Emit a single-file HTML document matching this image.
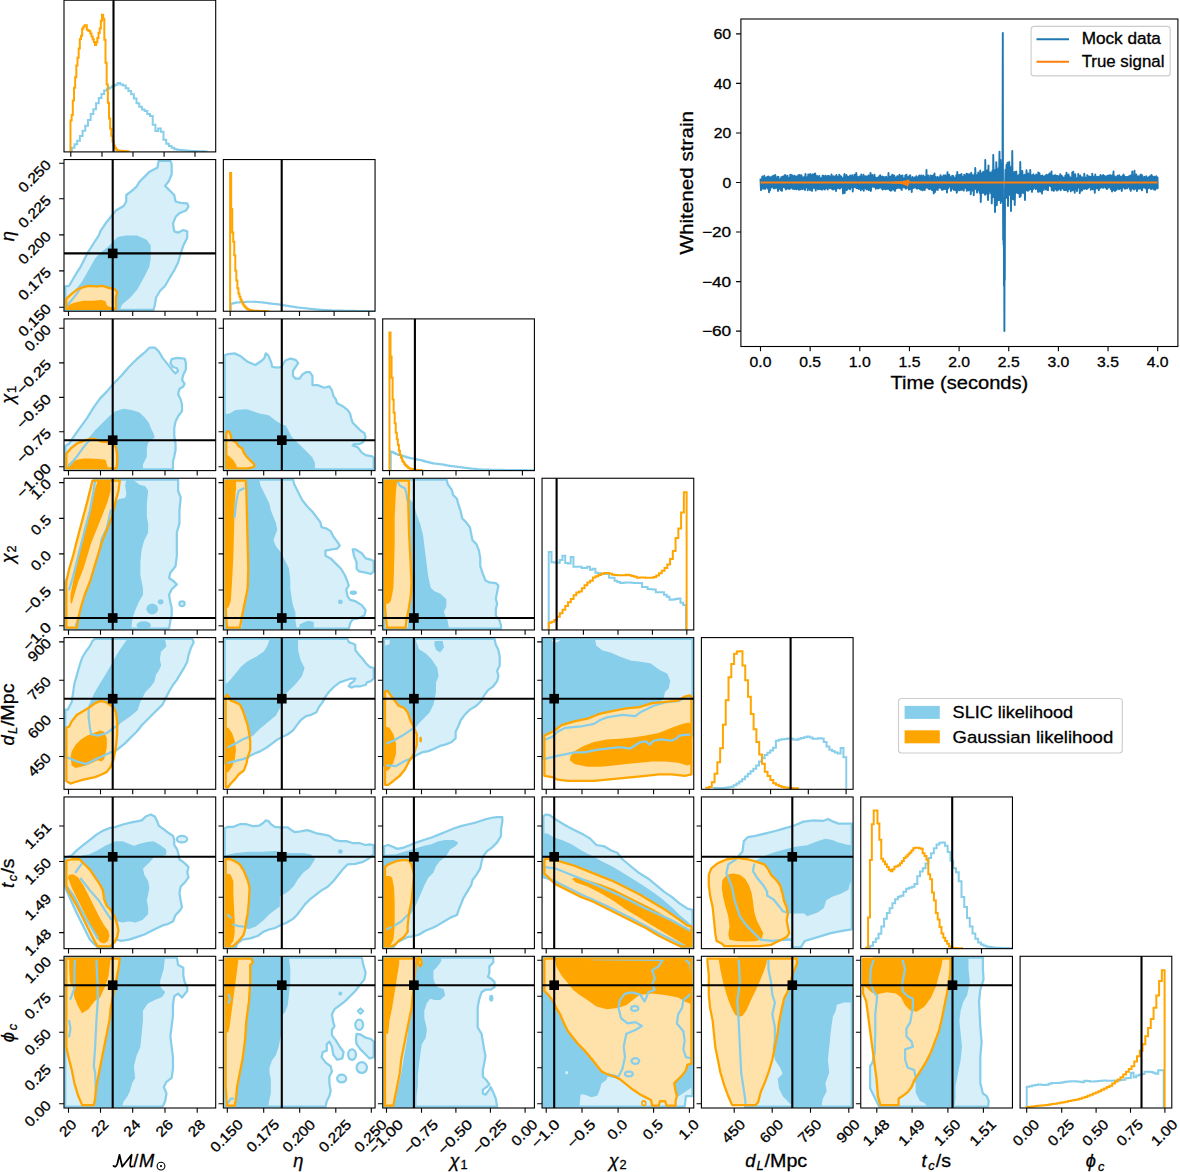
<!DOCTYPE html>
<html><head><meta charset="utf-8"><title>Corner plot</title>
<style>
html,body{margin:0;padding:0;background:#fff;}
body{width:1180px;height:1172px;overflow:hidden;}
svg{display:block;}
text{font-family:"Liberation Sans",sans-serif;fill:#000;stroke:#000;stroke-width:0.3px;}
</style></head><body>
<svg width="1180" height="1172" viewBox="0 0 1180 1172">
<defs>
<clipPath id="c10"><rect x="64" y="159.55" width="151.7" height="151.7"/></clipPath>
<clipPath id="c20"><rect x="64" y="318.9" width="151.7" height="151.7"/></clipPath>
<clipPath id="c30"><rect x="64" y="478.25" width="151.7" height="151.7"/></clipPath>
<clipPath id="c40"><rect x="64" y="637.6" width="151.7" height="151.7"/></clipPath>
<clipPath id="c50"><rect x="64" y="796.95" width="151.7" height="151.7"/></clipPath>
<clipPath id="c60"><rect x="64" y="956.3" width="151.7" height="151.7"/></clipPath>
<clipPath id="c21"><rect x="223.35" y="318.9" width="151.7" height="151.7"/></clipPath>
<clipPath id="c31"><rect x="223.35" y="478.25" width="151.7" height="151.7"/></clipPath>
<clipPath id="c41"><rect x="223.35" y="637.6" width="151.7" height="151.7"/></clipPath>
<clipPath id="c51"><rect x="223.35" y="796.95" width="151.7" height="151.7"/></clipPath>
<clipPath id="c61"><rect x="223.35" y="956.3" width="151.7" height="151.7"/></clipPath>
<clipPath id="c32"><rect x="382.7" y="478.25" width="151.7" height="151.7"/></clipPath>
<clipPath id="c42"><rect x="382.7" y="637.6" width="151.7" height="151.7"/></clipPath>
<clipPath id="c52"><rect x="382.7" y="796.95" width="151.7" height="151.7"/></clipPath>
<clipPath id="c62"><rect x="382.7" y="956.3" width="151.7" height="151.7"/></clipPath>
<clipPath id="c43"><rect x="542.05" y="637.6" width="151.7" height="151.7"/></clipPath>
<clipPath id="c53"><rect x="542.05" y="796.95" width="151.7" height="151.7"/></clipPath>
<clipPath id="c63"><rect x="542.05" y="956.3" width="151.7" height="151.7"/></clipPath>
<clipPath id="c54"><rect x="701.4" y="796.95" width="151.7" height="151.7"/></clipPath>
<clipPath id="c64"><rect x="701.4" y="956.3" width="151.7" height="151.7"/></clipPath>
<clipPath id="c65"><rect x="860.75" y="956.3" width="151.7" height="151.7"/></clipPath>
<clipPath id="h0"><rect x="64" y="0.2" width="151.7" height="151.7"/></clipPath>
<clipPath id="h1"><rect x="223.35" y="159.55" width="151.7" height="151.7"/></clipPath>
<clipPath id="h2"><rect x="382.7" y="318.9" width="151.7" height="151.7"/></clipPath>
<clipPath id="h3"><rect x="542.05" y="478.25" width="151.7" height="151.7"/></clipPath>
<clipPath id="h4"><rect x="701.4" y="637.6" width="151.7" height="151.7"/></clipPath>
<clipPath id="h5"><rect x="860.75" y="796.95" width="151.7" height="151.7"/></clipPath>
<clipPath id="h6"><rect x="1020.1" y="956.3" width="151.7" height="151.7"/></clipPath>
</defs>
<rect width="1180" height="1172" fill="#fff"/>
<g clip-path="url(#c10)">
<path d="M65.3 309.95 L65.3 286.45 L69.19 285.8 L74.38 276.72 L80.86 266.35 L87.34 253.38 L93.83 243 L99.02 235.22 L100.31 231.33 L105.5 223.55 L110.69 217.06 L115.88 210.58 L123.66 206.04 L126.25 201.5 L126.25 195.02 L131.44 191.13 L136.63 186.59 L139.22 182.05 L144.41 176.86 L149.6 171.67 L154.78 169.08 L157.38 167.78 L158.68 160.85 L162.57 160.85 L170.35 160.85 L171.65 163.89 L171.65 174.27 L169.05 180.75 L165.16 185.94 L169.05 189.83 L174.24 195.02 L175.54 201.5 L180.72 202.8 L187.21 203.45 L188.51 206.69 L185.91 210.58 L179.43 213.17 L175.54 217.06 L172.94 223.55 L174.24 231.33 L178.13 232.63 L183.32 230.03 L187.21 231.33 L187.21 237.82 L183.32 245.6 L180.72 253.38 L178.13 262.46 L174.24 270.24 L170.35 276.72 L165.16 285.8 L159.97 290.99 L156.08 297.47 L154.78 305.26 L153.49 309.95Z" fill="#d7eff8" stroke="#87ceeb" stroke-width="2.25" stroke-linejoin="round"/>
<path d="M118.47 309.95 L121.06 303.96 L128.85 297.47 L136.63 288.4 L143.11 276.72 L148.3 266.35 L149.6 258.57 L149.6 245.6 L145.71 240.41 L136.63 236.52 L126.25 236.52 L118.47 237.82 L113.28 243 L108.1 248.19 L101.61 253.38 L96.42 258.57 L91.24 267.65 L86.05 276.72 L82.16 283.21 L76.97 289.69 L71.78 297.47 L67.89 302.66 L65.3 309.95Z" fill="#87ceeb" stroke="#87ceeb" stroke-width="2.25" stroke-linejoin="round"/>
<path d="M66.3 308.95 L66.3 298.77 L70.48 294.88 L76.97 289.69 L83.45 287.1 L88.64 285.8 L96.42 286.45 L102.91 285.8 L108.1 287.75 L114.58 289.04 L117.17 292.29 L115.88 297.47 L115.88 302.66 L115.88 308.95Z" fill="#ffe1aa"/>
<path d="M67.89 308.95 L67.89 305.26 L74.38 302.66 L83.45 300.72 L92.53 300.72 L101.61 300.07 L105.5 301.37 L106.8 305.26 L110.69 307.2 L113.28 307.85 L114.58 308.95Z" fill="#ffa500"/>
<path d="M66.59 306.55 L71.78 300.07 L76.97 293.58 L80.86 287.1" fill="none" stroke="#87ceeb" stroke-width="2.25" stroke-linejoin="round" stroke-linecap="round"/>
<path d="M66.3 308.95 L66.3 298.77 L70.48 294.88 L76.97 289.69 L83.45 287.1 L88.64 285.8 L96.42 286.45 L102.91 285.8 L108.1 287.75 L114.58 289.04 L117.17 292.29 L115.88 297.47 L115.88 302.66 L115.88 308.95Z" fill="none" stroke="#ffa500" stroke-width="2.3" stroke-linejoin="round"/>
</g>
<g clip-path="url(#c20)">
<path d="M65.3 469.3 L65.3 446.1 L69.19 443.51 L74.38 435.72 L80.86 426.65 L87.34 417.57 L93.83 407.19 L100.31 398.11 L106.8 391.63 L113.28 383.85 L121.06 376.06 L128.85 366.99 L136.63 359.2 L144.41 352.72 L149.6 347.53 L154.78 347.53 L158.68 351.42 L162.57 357.91 L167.75 364.39 L172.94 370.88 L175.54 373.47 L178.13 370.88 L176.83 368.28 L172.94 366.99 L170.35 363.1 L171.65 359.2 L176.83 357.91 L184.61 358.56 L185.91 363.1 L185.91 369.58 L183.32 374.77 L182.02 379.96 L184.61 383.85 L183.32 386.44 L179.43 389.03 L178.13 394.22 L180.72 399.41 L182.02 404.6 L182.02 411.08 L178.13 416.27 L175.54 421.46 L174.24 427.94 L174.24 435.72 L175.54 443.51 L175.54 449.99 L174.24 456.47 L172.94 461.66 L172.94 469.3Z" fill="#d7eff8" stroke="#87ceeb" stroke-width="2.25" stroke-linejoin="round"/>
<path d="M141.82 469.3 L141.82 464.26 L145.71 456.47 L145.71 448.69 L147 442.21 L153.49 437.02 L152.19 433.13 L149.6 427.94 L148.3 424.05 L144.41 418.86 L139.22 413.68 L131.44 411.08 L123.66 409.78 L115.88 412.38 L109.39 417.57 L102.91 424.05 L96.42 430.54 L89.94 438.32 L83.45 446.1 L76.97 455.18 L70.48 464.26 L67.89 469.3Z" fill="#87ceeb" stroke="#87ceeb" stroke-width="2.25" stroke-linejoin="round"/>
<path d="M66.3 468.3 L66.3 453.88 L70.48 448.69 L76.97 443.51 L83.45 440.91 L89.94 438.97 L95.13 438.97 L101.61 441.56 L108.1 442.21 L113.28 443.51 L115.88 447.4 L117.17 453.88 L117.17 461.66 L116.53 468.3Z" fill="#ffe1aa"/>
<path d="M67.89 468.3 L67.89 464.26 L71.78 461.66 L76.97 459.72 L83.45 458.42 L89.94 458.42 L99.02 459.07 L105.5 459.72 L106.8 464.26 L108.1 468.3Z" fill="#ffa500"/>
<path d="M69.19 465.55 L76.97 456.47 L83.45 447.4 L89.94 439.61" fill="none" stroke="#87ceeb" stroke-width="2.25" stroke-linejoin="round" stroke-linecap="round"/>
<path d="M66.3 468.3 L66.3 453.88 L70.48 448.69 L76.97 443.51 L83.45 440.91 L89.94 438.97 L95.13 438.97 L101.61 441.56 L108.1 442.21 L113.28 443.51 L115.88 447.4 L117.17 453.88 L117.17 461.66 L116.53 468.3Z" fill="none" stroke="#ffa500" stroke-width="2.3" stroke-linejoin="round"/>
</g>
<g clip-path="url(#c30)">
<path d="M93.83 479.55 L178.13 479.55 L178.13 490.97 L180.72 497.45 L179.43 510.42 L179.43 523.39 L176.83 532.47 L176.83 542.85 L176.83 555.82 L175.54 566.19 L170.35 572.68 L169.05 577.86 L174.24 581.75 L176.83 584.35 L171.65 589.54 L169.05 594.72 L170.35 602.51 L171.65 607.69 L171.65 615.47 L170.35 620.66 L169.05 628.65 L65.3 628.65 L65.3 581.75 L71.78 568.78 L76.97 549.33 L83.45 523.39 L88.64 497.45 L92.53 481.89Z" fill="#d7eff8" stroke="#87ceeb" stroke-width="2.25" stroke-linejoin="round"/>
<ellipse cx="182.02" cy="603.8" rx="2.59" ry="2.33" fill="#d7eff8" stroke="#87ceeb" stroke-width="2.25"/>
<path d="M127.55 479.55 L134.03 481.89 L139.22 485.78 L144.41 487.08 L147 490.97 L145.71 503.94 L145.71 516.91 L147 523.39 L147 532.47 L143.11 540.25 L140.52 549.33 L139.22 562.3 L139.22 575.27 L141.82 588.24 L141.82 594.72 L137.92 601.21 L134.03 610.29 L131.44 618.07 L130.14 628.65 L75.02 628.65 L78.91 614.18 L84.75 594.72 L90.59 575.27 L95.77 555.82 L100.31 540.25 L106.8 525.99 L111.34 510.42 L114.58 502.64 L119.77 500.05 L126.25 498.75 L127.55 493.56 L126.25 485.78Z" fill="#87ceeb" stroke="#87ceeb" stroke-width="2.25" stroke-linejoin="round"/>
<ellipse cx="152.19" cy="608.99" rx="5.84" ry="5.45" fill="#87ceeb"/>
<ellipse cx="160.62" cy="601.86" rx="2.85" ry="2.59" fill="#87ceeb"/>
<ellipse cx="143.76" cy="625.2" rx="7.13" ry="3.89" fill="#87ceeb"/>
<path d="M92.53 480.55 L119.77 480.55 L118.47 490.97 L115.88 500.05 L111.99 516.91 L106.8 529.88 L101.61 542.85 L97.72 555.82 L93.83 568.78 L89.94 581.75 L84.75 594.72 L80.86 607.69 L78.27 618.07 L76.97 627.65 L66.3 627.65 L66.3 581.75 L69.19 568.78 L73.08 555.82 L76.97 540.25 L82.16 520.8 L87.34 501.34 L91.24 485.78Z" fill="#ffe1aa"/>
<path d="M97.72 480.55 L110.69 480.55 L110.69 490.97 L106.8 503.94 L101.61 516.91 L96.42 529.88 L91.24 542.85 L87.34 555.82 L83.45 568.78 L78.27 581.75 L74.38 594.72 L71.78 603.8 L70.48 602.51 L70.48 594.72 L73.08 581.75 L76.97 562.3 L80.86 542.85 L86.05 523.39 L91.24 503.94 L95.13 488.38Z" fill="#ffa500"/>
<path d="M95.13 480.59 L93.18 493.56 L89.94 510.42 L84.75 529.88 L80.86 545.44 L76.97 561 L73.08 576.57 L69.19 589.54" fill="none" stroke="#87ceeb" stroke-width="2.25" stroke-linejoin="round" stroke-linecap="round"/>
<path d="M110.69 510.42 L106.8 528.58 L101.61 538.96 L99.02 555.82 L92.53 575.27 L86.05 594.72 L80.86 611.58 L75.67 625.85" fill="none" stroke="#87ceeb" stroke-width="2.25" stroke-linejoin="round" stroke-linecap="round"/>
<path d="M92.53 480.55 L119.77 480.55 L118.47 490.97 L115.88 500.05 L111.99 516.91 L106.8 529.88 L101.61 542.85 L97.72 555.82 L93.83 568.78 L89.94 581.75 L84.75 594.72 L80.86 607.69 L78.27 618.07 L76.97 627.65 L66.3 627.65 L66.3 581.75 L69.19 568.78 L73.08 555.82 L76.97 540.25 L82.16 520.8 L87.34 501.34 L91.24 485.78Z" fill="none" stroke="#ffa500" stroke-width="2.3" stroke-linejoin="round"/>
</g>
<g clip-path="url(#c40)">
<path d="M92.53 640.89 L95.13 638.9 L192.4 638.9 L193.69 642.19 L191.1 647.38 L188.51 655.16 L187.21 661.64 L184.61 666.83 L180.72 673.31 L176.83 679.8 L172.94 684.99 L169.05 691.47 L166.46 696.66 L162.57 704.44 L157.38 709.63 L152.19 714.82 L147 720 L141.82 725.19 L136.63 731.68 L130.14 738.16 L124.96 743.35 L118.47 748.54 L113.28 752.43 L106.8 755.02 L96.42 758.91 L86.05 764.1 L76.97 761.51 L67.89 757.61 L65.3 757.61 L65.3 709.63 L67.89 709.63 L69.19 707.03 L71.78 701.85 L73.08 692.77 L74.38 683.69 L76.97 674.61 L79.56 665.53 L82.16 657.75 L86.05 651.27 L89.94 646.08Z" fill="#d7eff8" stroke="#87ceeb" stroke-width="2.25" stroke-linejoin="round"/>
<path d="M128.85 638.9 L163.86 638.9 L165.16 646.08 L159.97 651.27 L158.68 659.05 L159.97 665.53 L157.38 670.72 L154.78 674.61 L153.49 681.1 L149.6 686.28 L144.41 691.47 L141.82 696.66 L139.22 701.85 L136.63 709.63 L128.85 716.11 L121.06 721.3 L115.88 726.49 L106.8 732.97 L99.02 734.27 L92.53 735.57 L89.94 732.97 L89.29 721.3 L88.64 708.33 L95.13 694.06 L100.31 684.99 L106.8 674.61 L111.99 665.53 L118.47 653.86 L123.66 646.08Z" fill="#87ceeb" stroke="#87ceeb" stroke-width="2.25" stroke-linejoin="round"/>
<path d="M66.3 780.96 L66.3 727.78 L69.19 726.49 L71.78 721.3 L76.97 714.82 L83.45 710.92 L89.94 707.03 L95.13 703.14 L100.31 701.2 L105.5 701.85 L109.39 704.44 L113.28 707.03 L115.88 712.22 L117.17 721.3 L117.17 734.27 L115.88 747.24 L113.28 760.21 L110.69 766.69 L106.8 771.88 L101.61 774.47 L95.13 777.07 L83.45 779.66 L74.38 782.26 L70.48 783.55Z" fill="#ffe1aa"/>
<path d="M70.48 757.61 L71.78 751.13 L75.67 744.65 L80.86 739.46 L87.34 735.57 L93.83 732.97 L100.31 730.38 L104.2 731.68 L106.8 738.16 L106.8 747.24 L105.5 753.72 L104.2 758.91 L101.61 761.51 L97.72 760.21 L92.53 762.8 L86.05 765.4 L80.86 766.69 L75.67 767.99 L71.78 765.4Z" fill="#ffa500"/>
<path d="M88.64 708.33 L88.64 717.41 L89.94 727.78 L91.24 734.27 L97.72 735.57 L106.8 732.97 L115.88 726.49" fill="none" stroke="#87ceeb" stroke-width="2.25" stroke-linejoin="round" stroke-linecap="round"/>
<path d="M67.89 757.61 L76.97 761.51 L86.05 764.1 L96.42 758.91 L111.99 751.78" fill="none" stroke="#87ceeb" stroke-width="2.25" stroke-linejoin="round" stroke-linecap="round"/>
<path d="M66.3 780.96 L66.3 727.78 L69.19 726.49 L71.78 721.3 L76.97 714.82 L83.45 710.92 L89.94 707.03 L95.13 703.14 L100.31 701.2 L105.5 701.85 L109.39 704.44 L113.28 707.03 L115.88 712.22 L117.17 721.3 L117.17 734.27 L115.88 747.24 L113.28 760.21 L110.69 766.69 L106.8 771.88 L101.61 774.47 L95.13 777.07 L83.45 779.66 L74.38 782.26 L70.48 783.55Z" fill="none" stroke="#ffa500" stroke-width="2.3" stroke-linejoin="round"/>
</g>
<g clip-path="url(#c50)">
<path d="M71.78 855.36 L76.97 850.17 L83.45 844.99 L89.94 839.8 L96.42 834.61 L102.91 830.72 L109.39 828.13 L115.88 826.83 L123.66 824.24 L131.44 822.29 L141.82 820.34 L145.71 816.45 L150.89 814.51 L154.78 816.45 L157.38 821.64 L158.68 825.53 L163.86 829.42 L169.05 833.31 L172.94 835.91 L174.24 839.8 L174.24 844.99 L176.83 848.88 L178.13 852.77 L179.43 859.25 L184.61 863.14 L188.51 867.03 L187.21 872.22 L188.51 877.41 L184.61 882.6 L180.72 886.49 L179.43 892.97 L180.72 900.75 L182.02 907.24 L179.43 911.13 L175.54 915.02 L172.94 921.51 L167.75 924.1 L162.57 925.4 L157.38 927.99 L152.19 930.58 L144.41 934.47 L136.63 937.07 L128.85 939.66 L121.06 940.96 L117.17 939.66 L113.28 942.26 L110.69 947.35 L97.72 947.35 L89.94 939.66 L76.97 913.72 L65.3 887.78 L65.3 857.96Z" fill="#d7eff8" stroke="#87ceeb" stroke-width="2.25" stroke-linejoin="round"/>
<ellipse cx="182.02" cy="839.15" rx="5.19" ry="3.24" fill="#d7eff8" stroke="#87ceeb" stroke-width="2.25"/>
<path d="M89.94 855.36 L97.72 851.47 L106.8 846.28 L115.88 842.39 L122.36 842.39 L128.85 844.99 L134.03 846.93 L139.22 844.99 L147 843.04 L153.49 842.39 L159.97 846.28 L165.16 850.17 L165.16 854.06 L159.97 855.36 L153.49 855.36 L150.89 859.25 L147 863.14 L141.82 868.33 L143.11 874.82 L147 881.3 L148.3 887.78 L147 894.27 L145.71 900.75 L147 907.24 L147 913.72 L141.82 918.91 L135.33 921.51 L128.85 920.21 L122.36 921.51 L117.17 920.21 L111.99 916.32 L102.91 900.75 L89.94 881.3 L79.56 864.44 L76.97 859.25 L82.16 856.66Z" fill="#87ceeb" stroke="#87ceeb" stroke-width="2.25" stroke-linejoin="round"/>
<path d="M66.3 860.55 L71.78 859.25 L79.56 859.25 L84.75 864.44 L89.94 869.63 L95.13 877.41 L100.31 885.19 L102.91 890.38 L104.2 899.46 L106.8 905.94 L110.69 909.83 L114.58 916.32 L117.17 924.1 L118.47 930.58 L117.17 937.07 L114.58 942.26 L110.69 946.15 L106.8 946.35 L97.72 946.35 L95.13 942.26 L91.24 934.47 L87.34 926.69 L82.16 916.32 L76.97 905.94 L71.78 896.86 L67.89 890.38 L66.3 885.19Z" fill="#ffe1aa"/>
<path d="M67.89 877.41 L69.19 874.82 L73.08 874.17 L78.27 877.41 L83.45 885.19 L88.64 895.57 L93.83 905.94 L99.02 916.32 L104.2 925.4 L108.1 930.58 L109.39 935.77 L108.1 940.96 L104.2 943.55 L100.31 942.26 L96.42 937.07 L92.53 929.29 L87.34 918.91 L82.16 908.54 L76.97 898.16 L71.78 887.78Z" fill="#ffa500"/>
<path d="M75.67 872.22 L82.16 863.14" fill="none" stroke="#87ceeb" stroke-width="2.25" stroke-linejoin="round" stroke-linecap="round"/>
<path d="M67.89 887.78 L74.38 896.86 L79.56 907.24 L86.05 918.91 L92.53 929.29 L97.72 938.37" fill="none" stroke="#87ceeb" stroke-width="2.25" stroke-linejoin="round" stroke-linecap="round"/>
<path d="M80.86 878.71 L89.94 890.38 L99.02 900.75 L105.5 911.13 L110.69 918.91" fill="none" stroke="#87ceeb" stroke-width="2.25" stroke-linejoin="round" stroke-linecap="round"/>
<path d="M66.3 860.55 L71.78 859.25 L79.56 859.25 L84.75 864.44 L89.94 869.63 L95.13 877.41 L100.31 885.19 L102.91 890.38 L104.2 899.46 L106.8 905.94 L110.69 909.83 L114.58 916.32 L117.17 924.1 L118.47 930.58 L117.17 937.07 L114.58 942.26 L110.69 946.15 L106.8 946.35 L97.72 946.35 L95.13 942.26 L91.24 934.47 L87.34 926.69 L82.16 916.32 L76.97 905.94 L71.78 896.86 L67.89 890.38 L66.3 885.19Z" fill="none" stroke="#ffa500" stroke-width="2.3" stroke-linejoin="round"/>
</g>
<g clip-path="url(#c60)">
<path d="M65.3 957.6 L176.83 957.6 L178.13 965.08 L183.32 967.67 L183.32 975.45 L184.61 981.94 L187.21 987.13 L187.21 991.02 L182.02 997.5 L178.13 993.61 L174.24 996.2 L172.94 1005.28 L172.94 1015.66 L171.65 1026.03 L170.35 1036.41 L171.65 1046.78 L172.94 1057.16 L172.94 1068.83 L171.65 1077.91 L166.46 1081.8 L163.86 1086.99 L166.46 1093.47 L165.16 1101.26 L162.57 1106.7 L65.3 1106.7Z" fill="#d7eff8" stroke="#87ceeb" stroke-width="2.25" stroke-linejoin="round"/>
<path d="M96.42 957.6 L163.86 957.6 L162.57 968.97 L158.68 981.94 L159.97 988.42 L163.86 992.31 L161.27 996.2 L154.78 998.8 L147 1002.69 L141.82 1010.47 L141.82 1020.85 L140.52 1033.82 L139.22 1046.78 L135.33 1055.86 L132.74 1066.24 L134.03 1077.91 L131.44 1081.8 L128.85 1090.88 L126.25 1096.07 L122.36 1101.26 L121.06 1106.7 L96.42 1106.7 L96.42 1098.66 L95.13 1072.72 L93.83 1066.24 L95.13 1046.78 L96.42 1020.85 L97.72 1001.39 L97.72 988.42Z" fill="#87ceeb" stroke="#87ceeb" stroke-width="2.25" stroke-linejoin="round"/>
<path d="M66.3 958.6 L119.77 958.6 L118.47 968.97 L115.88 981.94 L113.28 994.91 L110.69 1007.88 L109.39 1020.85 L106.8 1033.82 L104.2 1046.78 L101.61 1059.75 L99.02 1072.72 L96.42 1085.69 L95.13 1098.66 L93.83 1105.15 L82.16 1105.15 L78.27 1096.07 L74.38 1083.1 L71.78 1070.13 L67.89 1054.57 L66.3 1046.78Z" fill="#ffe1aa"/>
<path d="M69.19 958.6 L110.69 958.6 L108.48 976.49 L104.98 986.74 L99.8 998.02 L94.74 1001 L88.51 1009.17 L81.9 1013.32 L77.36 1004.63 L74.25 996.98 L72.69 986.74 L69.84 981.94 L69.19 968.97Z" fill="#ffa500"/>
<path d="M96.42 1103.85 L95.13 1072.72 L93.83 1066.24 L95.13 1046.78 L96.42 1020.85 L97.72 1001.39 L97.72 988.42 L96.42 959.89" fill="none" stroke="#87ceeb" stroke-width="2.25" stroke-linejoin="round" stroke-linecap="round"/>
<path d="M70.48 998.8 L74.38 988.42 L74.38 968.97 L75.02 958.59" fill="none" stroke="#87ceeb" stroke-width="2.25" stroke-linejoin="round" stroke-linecap="round"/>
<path d="M69.19 1020.85 L70.48 1028.63 L69.19 1036.41" fill="none" stroke="#87ceeb" stroke-width="2.25" stroke-linejoin="round" stroke-linecap="round"/>
<path d="M66.3 958.6 L119.77 958.6 L118.47 968.97 L115.88 981.94 L113.28 994.91 L110.69 1007.88 L109.39 1020.85 L106.8 1033.82 L104.2 1046.78 L101.61 1059.75 L99.02 1072.72 L96.42 1085.69 L95.13 1098.66 L93.83 1105.15 L82.16 1105.15 L78.27 1096.07 L74.38 1083.1 L71.78 1070.13 L67.89 1054.57 L66.3 1046.78Z" fill="none" stroke="#ffa500" stroke-width="2.3" stroke-linejoin="round"/>
</g>
<g clip-path="url(#c21)">
<path d="M224.65 469.3 L224.65 355.31 L228.19 354.02 L234.67 353.37 L241.16 356.61 L247.64 361.8 L255.42 365.04 L261.91 360.5 L264.5 357.91 L265.8 353.37 L268.39 355.31 L270.99 361.8 L272.28 366.99 L277.47 367.63 L281.36 366.99 L285.25 360.5 L290.44 358.56 L295.63 359.85 L298.22 363.1 L295.63 366.99 L293.03 370.88 L293.03 376.06 L295.63 378.66 L299.52 378.66 L302.11 374.77 L306 372.17 L309.89 372.17 L312.49 376.06 L312.49 381.25 L312.49 385.14 L317.68 385.14 L324.16 387.74 L329.35 386.44 L331.94 390.33 L333.24 395.52 L335.83 399.41 L337.13 403.3 L342.32 405.89 L347.51 409.78 L350.1 413.68 L351.4 418.86 L352.69 422.75 L356.58 426.65 L360.47 430.54 L364.37 433.13 L365.66 437.02 L363.07 442.21 L359.18 444.15 L353.99 444.15 L352.69 445.45 L357.88 447.4 L361.77 452.58 L365.66 455.18 L372.15 456.47 L373.75 457.77 L373.75 469.3Z" fill="#d7eff8" stroke="#87ceeb" stroke-width="2.25" stroke-linejoin="round"/>
<path d="M224.65 469.3 L224.65 414.97 L229.48 414.97 L235.97 411.08 L246.34 410.43 L252.83 412.38 L260.61 414.97 L268.39 416.27 L274.88 421.46 L281.36 425.35 L285.25 426.65 L287.85 431.83 L290.44 437.02 L295.63 442.21 L300.82 447.4 L306 452.58 L311.19 457.77 L313.78 462.96 L313.78 469.3Z" fill="#87ceeb" stroke="#87ceeb" stroke-width="2.25" stroke-linejoin="round"/>
<path d="M226.24 468.3 L226.24 433.13 L227.54 431.18 L229.48 431.83 L230.78 435.72 L231.43 439.61 L235.97 442.21 L238.56 446.1 L242.45 448.69 L243.75 452.58 L246.34 456.47 L248.94 459.07 L251.53 461.66 L254.13 464.26 L254.13 466.85 L248.94 468.3Z" fill="#ffe1aa"/>
<path d="M226.24 468.3 L226.24 453.88 L229.48 456.47 L233.38 460.37 L235.97 464.26 L237.27 468.3Z" fill="#ffa500"/>
<path d="M226.24 468.3 L226.24 433.13 L227.54 431.18 L229.48 431.83 L230.78 435.72 L231.43 439.61 L235.97 442.21 L238.56 446.1 L242.45 448.69 L243.75 452.58 L246.34 456.47 L248.94 459.07 L251.53 461.66 L254.13 464.26 L254.13 466.85 L248.94 468.3Z" fill="none" stroke="#ffa500" stroke-width="2.3" stroke-linejoin="round"/>
</g>
<g clip-path="url(#c31)">
<path d="M224.65 479.55 L293.03 479.55 L294.33 484.48 L298.22 492.27 L302.11 500.05 L307.3 506.53 L312.49 511.72 L316.38 516.91 L320.27 522.1 L321.57 527.28 L326.75 528.58 L330.65 531.17 L333.24 536.36 L337.13 541.55 L339.72 545.44 L337.13 548.68 L331.94 549.33 L325.46 550.63 L325.46 555.82 L330.65 558.41 L335.83 563.6 L341.02 568.78 L344.91 575.27 L347.51 581.75 L348.8 585.65 L346.21 589.54 L347.51 596.02 L350.1 599.91 L355.29 601.21 L361.77 605.1 L365.66 610.29 L364.37 615.47 L359.18 618.07 L352.69 619.37 L350.1 623.26 L348.8 628.65 L224.65 628.65Z" fill="#d7eff8" stroke="#87ceeb" stroke-width="2.25" stroke-linejoin="round"/>
<path d="M352.69 549.33 L355.29 549.33 L361.77 553.22 L365.66 558.41 L370.85 559.71 L373.75 561 L373.75 571.38 L370.85 573.97 L365.66 572.68 L359.18 571.38 L356.58 568.78 L356.58 562.3 L353.99 555.82Z" fill="#d7eff8" stroke="#87ceeb" stroke-width="2.25" stroke-linejoin="round"/>
<path d="M246.34 479.55 L258.02 479.55 L259.31 485.78 L264.5 496.16 L268.39 503.94 L269.69 510.42 L272.28 516.91 L274.88 523.39 L276.17 529.88 L273.58 536.36 L272.28 540.25 L274.88 546.74 L280.06 553.22 L283.96 561 L287.85 568.78 L289.14 579.16 L289.14 588.24 L290.44 597.32 L291.74 605.1 L294.33 612.88 L294.33 620.66 L295.63 628.65 L242.45 628.65 L245.05 607.69 L246.34 581.75 L246.99 555.82 L246.99 529.88 L246.34 503.94Z" fill="#87ceeb" stroke="#87ceeb" stroke-width="2.25" stroke-linejoin="round"/>
<path d="M299.52 624.55 L304.71 621.96 L308.6 620.66 L313.78 621.96 L313.78 628.65 L299.52 628.65Z" fill="#87ceeb"/>
<ellipse cx="353.34" cy="592.78" rx="2.59" ry="1.04" fill="#d7eff8" stroke="#87ceeb" stroke-width="2.25"/>
<ellipse cx="340.37" cy="601.86" rx="1.3" ry="1.3" fill="#d7eff8" stroke="#87ceeb" stroke-width="2.25"/>
<path d="M225.65 480.55 L245.7 480.55 L246.34 490.97 L246.99 516.91 L247.64 542.85 L248.29 568.78 L247.64 588.24 L245.05 601.21 L242.45 614.18 L241.16 620.66 L239.86 627.65 L226.89 627.65 L225.65 607.69Z" fill="#ffe1aa"/>
<path d="M225.65 480.55 L235.97 480.55 L235.97 488.38 L234.67 503.94 L234.02 529.88 L233.38 555.82 L232.08 581.75 L230.78 601.21 L228.19 607.69 L225.65 607.69Z" fill="#ffa500"/>
<path d="M243.75 488.38 L238.56 490.97 L237.27 496.16 L235.97 503.94 L234.67 516.91" fill="none" stroke="#87ceeb" stroke-width="2.25" stroke-linejoin="round" stroke-linecap="round"/>
<path d="M225.65 480.55 L245.7 480.55 L246.34 490.97 L246.99 516.91 L247.64 542.85 L248.29 568.78 L247.64 588.24 L245.05 601.21 L242.45 614.18 L241.16 620.66 L239.86 627.65 L226.89 627.65 L225.65 607.69Z" fill="none" stroke="#ffa500" stroke-width="2.3" stroke-linejoin="round"/>
</g>
<g clip-path="url(#c41)">
<path d="M224.65 638.9 L347.51 638.9 L348.8 642.19 L352.69 643.48 L355.29 644.78 L355.29 649.97 L359.18 655.16 L361.77 657.75 L365.66 662.94 L369.55 666.83 L373.75 668.13 L373.75 678.5 L370.85 681.1 L366.96 682.39 L365.66 684.99 L360.47 686.28 L355.29 686.28 L351.4 687.58 L348.8 686.28 L350.1 683.69 L353.99 681.1 L355.29 678.5 L351.4 678.5 L347.51 679.8 L339.72 682.39 L334.54 686.28 L329.35 691.47 L325.46 696.66 L322.86 701.85 L318.97 707.03 L316.38 712.22 L311.19 714.82 L306 716.11 L300.82 720 L296.92 725.19 L293.03 730.38 L287.85 734.27 L282.66 736.86 L277.47 739.46 L272.28 743.35 L267.1 747.24 L260.61 751.13 L254.13 753.72 L248.94 756.32 L243.75 758.91 L235.97 760.86 L228.19 762.8 L224.65 763.45Z" fill="#d7eff8" stroke="#87ceeb" stroke-width="2.25" stroke-linejoin="round"/>
<path d="M224.65 686.28 L229.48 682.39 L235.97 674.61 L242.45 666.83 L248.94 661.64 L256.72 657.75 L264.5 652.56 L268.39 646.08 L270.99 638.9 L296.92 638.9 L296.92 649.97 L299.52 660.34 L303.41 668.13 L300.82 675.91 L295.63 682.39 L289.14 688.88 L282.66 695.36 L280.06 705.74 L274.88 714.82 L267.1 721.3 L259.31 727.78 L252.83 734.27 L248.94 736.86 L242.45 739.46 L235.97 743.35 L228.19 747.24 L224.65 748.54Z" fill="#87ceeb" stroke="#87ceeb" stroke-width="2.25" stroke-linejoin="round"/>
<path d="M225.65 787 L225.65 696.66 L226.89 694.71 L228.84 696.66 L230.78 700.55 L234.67 701.85 L239.86 704.44 L242.45 709.63 L245.05 717.41 L247.64 725.19 L248.94 731.68 L250.24 740.75 L250.24 749.83 L247.64 757.61 L246.34 764.1 L243.75 770.58 L238.56 774.47 L234.67 779.66 L230.78 783.55 L228.19 787Z" fill="#ffe1aa"/>
<path d="M225.65 727.78 L228.19 727.78 L232.08 732.97 L234.67 740.75 L235.97 749.83 L234.67 760.21 L232.08 766.69 L228.19 771.88 L225.65 773.18Z" fill="#ffa500"/>
<path d="M228.19 747.24 L235.97 743.35 L242.45 739.46 L248.94 736.86" fill="none" stroke="#87ceeb" stroke-width="2.25" stroke-linejoin="round" stroke-linecap="round"/>
<path d="M228.19 762.8 L235.97 760.86 L243.75 758.91 L248.94 756.97" fill="none" stroke="#87ceeb" stroke-width="2.25" stroke-linejoin="round" stroke-linecap="round"/>
<path d="M225.65 787 L225.65 696.66 L226.89 694.71 L228.84 696.66 L230.78 700.55 L234.67 701.85 L239.86 704.44 L242.45 709.63 L245.05 717.41 L247.64 725.19 L248.94 731.68 L250.24 740.75 L250.24 749.83 L247.64 757.61 L246.34 764.1 L243.75 770.58 L238.56 774.47 L234.67 779.66 L230.78 783.55 L228.19 787Z" fill="none" stroke="#ffa500" stroke-width="2.3" stroke-linejoin="round"/>
</g>
<g clip-path="url(#c51)">
<path d="M224.65 947.35 L224.65 828.13 L228.19 826.83 L233.38 826.83 L239.86 824.24 L246.34 824.24 L252.83 826.18 L259.31 825.53 L263.2 822.94 L265.8 820.34 L268.39 820.99 L270.99 824.24 L274.88 826.83 L280.06 827.48 L287.85 827.48 L290.44 829.42 L294.33 832.02 L300.82 831.37 L307.3 830.07 L311.19 831.37 L316.38 833.31 L324.16 834.61 L329.35 835.91 L334.54 839.8 L339.72 841.1 L346.21 841.1 L352.69 843.04 L359.18 843.04 L365.66 844.99 L369.55 844.34 L373.75 844.99 L373.75 854.06 L369.55 857.96 L363.07 861.85 L355.29 863.79 L347.51 864.44 L343.61 868.33 L338.43 874.82 L333.24 881.3 L328.05 886.49 L321.57 890.38 L316.38 894.27 L309.89 899.46 L304.71 904.65 L300.82 909.83 L296.92 915.02 L293.03 918.91 L286.55 922.8 L280.06 925.4 L274.88 927.99 L269.69 929.29 L263.2 931.88 L258.02 935.77 L250.24 938.37 L242.45 939.66 L237.27 943.55 L235.97 947.35Z" fill="#d7eff8" stroke="#87ceeb" stroke-width="2.25" stroke-linejoin="round"/>
<path d="M224.65 856.66 L235.97 854.06 L248.94 852.77 L261.91 852.77 L274.88 852.12 L282.66 852.77 L287.85 854.06 L295.63 854.06 L303.41 854.06 L309.89 855.36 L313.78 859.25 L308.6 867.03 L302.11 872.22 L296.92 878.71 L293.03 885.19 L287.85 890.38 L283.96 892.97 L278.77 895.57 L278.77 905.94 L274.88 908.54 L268.39 913.72 L261.91 920.21 L255.42 925.4 L248.94 927.99 L242.45 926.69 L235.97 925.4 L224.65 926.69Z" fill="#87ceeb" stroke="#87ceeb" stroke-width="2.25" stroke-linejoin="round"/>
<ellipse cx="340.37" cy="851.47" rx="2.33" ry="2.33" fill="#87ceeb"/>
<path d="M225.65 946.35 L225.65 859.25 L230.78 859.25 L235.97 861.85 L239.86 864.44 L243.75 870.92 L247.64 880 L249.59 887.78 L248.94 900.75 L247.64 913.72 L246.34 920.21 L245.05 929.29 L243.75 934.47 L239.86 939.66 L235.97 943.55 L233.38 946.15 L229.48 946.35Z" fill="#ffe1aa"/>
<path d="M225.65 946.35 L225.65 874.82 L228.19 873.52 L230.78 874.82 L233.38 881.3 L233.38 894.27 L234.02 907.24 L234.67 920.21 L234.67 933.18 L233.38 940.96 L229.48 946.35Z" fill="#ffa500"/>
<path d="M233.38 924.75 L238.56 926.04 L243.75 926.69" fill="none" stroke="#87ceeb" stroke-width="2.25" stroke-linejoin="round" stroke-linecap="round"/>
<path d="M228.19 915.02 L230.78 917.61" fill="none" stroke="#87ceeb" stroke-width="2.25" stroke-linejoin="round" stroke-linecap="round"/>
<path d="M225.65 946.35 L225.65 859.25 L230.78 859.25 L235.97 861.85 L239.86 864.44 L243.75 870.92 L247.64 880 L249.59 887.78 L248.94 900.75 L247.64 913.72 L246.34 920.21 L245.05 929.29 L243.75 934.47 L239.86 939.66 L235.97 943.55 L233.38 946.15 L229.48 946.35Z" fill="none" stroke="#ffa500" stroke-width="2.3" stroke-linejoin="round"/>
</g>
<g clip-path="url(#c61)">
<path d="M224.65 957.6 L361.77 957.6 L363.07 963.78 L365.66 972.86 L364.37 979.34 L359.18 985.83 L355.29 991.02 L350.1 996.2 L344.91 1001.39 L339.72 1005.28 L334.54 1009.17 L331.94 1014.36 L333.24 1022.14 L334.54 1026.03 L331.94 1029.92 L331.94 1035.11 L335.83 1040.3 L339.72 1046.78 L343.61 1051.97 L342.32 1058.46 L337.13 1059.75 L333.24 1054.57 L331.94 1046.78 L329.35 1041.6 L326.75 1044.19 L326.75 1050.68 L322.86 1051.97 L321.57 1057.16 L325.46 1062.35 L330.65 1066.24 L331.94 1071.43 L329.35 1076.61 L329.35 1083.1 L330.65 1090.88 L329.35 1096.07 L326.75 1101.26 L325.46 1106.7 L224.65 1106.7Z" fill="#d7eff8" stroke="#87ceeb" stroke-width="2.25" stroke-linejoin="round"/>
<path d="M360.47 1008.53 L363.07 1011.12 L360.47 1013.71 L357.88 1011.12Z" fill="#d7eff8" stroke="#87ceeb" stroke-width="2.25" stroke-linejoin="round"/>
<path d="M356.58 1033.82 L360.47 1034.46 L365.66 1037.71 L370.85 1039 L373.75 1041.6 L373.75 1057.16 L369.55 1058.46 L365.66 1054.57 L360.47 1049.38 L356.58 1044.19 L355.94 1039Z" fill="#d7eff8" stroke="#87ceeb" stroke-width="2.25" stroke-linejoin="round"/>
<path d="M250.24 957.6 L287.85 957.6 L289.14 968.97 L289.14 981.94 L287.85 994.91 L286.55 1005.28 L283.96 1011.77 L280.06 1015.66 L280.06 1033.82 L277.47 1046.78 L274.88 1054.57 L270.99 1059.75 L268.39 1067.54 L268.39 1072.72 L269.69 1079.21 L269.69 1085.69 L269.69 1093.47 L268.39 1098.66 L267.1 1106.7 L235.97 1106.7 L242.45 1059.75 L247.64 1007.88 L250.24 968.97Z" fill="#87ceeb" stroke="#87ceeb" stroke-width="2.25" stroke-linejoin="round"/>
<ellipse cx="359.18" cy="1024.74" rx="3.89" ry="5.19" fill="#d7eff8" stroke="#87ceeb" stroke-width="2.25"/>
<ellipse cx="352.04" cy="1054.57" rx="3.89" ry="5.19" fill="#d7eff8" stroke="#87ceeb" stroke-width="2.25"/>
<ellipse cx="361.77" cy="1067.54" rx="5.19" ry="5.45" fill="#d7eff8" stroke="#87ceeb" stroke-width="2.25"/>
<ellipse cx="341.67" cy="1078.56" rx="4.54" ry="3.89" fill="#d7eff8" stroke="#87ceeb" stroke-width="2.25"/>
<ellipse cx="340.37" cy="993.61" rx="0.91" ry="0.91" fill="#d7eff8" stroke="#87ceeb" stroke-width="2.25"/>
<path d="M225.65 958.6 L251.53 958.6 L252.83 962.48 L250.24 965.08 L250.24 981.94 L248.94 1001.39 L246.34 1020.85 L245.05 1040.3 L242.45 1059.75 L239.86 1072.72 L237.27 1085.69 L235.97 1098.66 L234.67 1105.7 L226.89 1105.7 L225.65 1085.69Z" fill="#ffe1aa"/>
<path d="M225.65 958.6 L238.56 958.6 L237.27 968.97 L234.67 988.42 L232.08 1007.88 L229.48 1027.33 L228.19 1032.52 L225.65 1032.52Z" fill="#ffa500"/>
<path d="M228.84 994.91 L230.13 998.8 L228.84 1002.69" fill="none" stroke="#87ceeb" stroke-width="2.25" stroke-linejoin="round" stroke-linecap="round"/>
<path d="M228.19 1102.55 L230.78 1098.66 L233.38 1098.66" fill="none" stroke="#87ceeb" stroke-width="2.25" stroke-linejoin="round" stroke-linecap="round"/>
<path d="M225.65 958.6 L251.53 958.6 L252.83 962.48 L250.24 965.08 L250.24 981.94 L248.94 1001.39 L246.34 1020.85 L245.05 1040.3 L242.45 1059.75 L239.86 1072.72 L237.27 1085.69 L235.97 1098.66 L234.67 1105.7 L226.89 1105.7 L225.65 1085.69Z" fill="none" stroke="#ffa500" stroke-width="2.3" stroke-linejoin="round"/>
</g>
<g clip-path="url(#c32)">
<path d="M384 479.55 L446.55 479.55 L447.85 484.48 L451.74 489.67 L453.03 494.86 L456.92 498.75 L458.22 503.94 L460.82 511.72 L462.11 518.2 L466 522.1 L469.89 527.28 L471.19 533.77 L472.49 540.25 L476.38 544.14 L478.97 550.63 L480.27 558.41 L480.27 566.19 L482.86 573.97 L485.46 580.46 L489.35 582.4 L495.83 583.05 L498.43 585.65 L497.13 592.13 L495.83 598.61 L497.13 603.8 L495.83 608.99 L495.83 615.47 L499.72 620.66 L501.02 625.85 L501.02 628.65 L384 628.65Z" fill="#d7eff8" stroke="#87ceeb" stroke-width="2.25" stroke-linejoin="round"/>
<path d="M408.94 500.05 L412.83 503.94 L415.42 514.31 L419.31 524.69 L421.91 535.06 L423.2 545.44 L424.5 555.82 L425.8 566.19 L427.1 576.57 L429.69 588.24 L433.58 592.13 L440.06 594.72 L445.25 599.91 L445.25 606.4 L442.66 611.58 L443.96 615.47 L446.55 620.66 L447.85 628.65 L408.94 628.65 L408.94 607.69 L409.59 581.75 L409.59 555.82 L408.94 529.88Z" fill="#87ceeb" stroke="#87ceeb" stroke-width="2.25" stroke-linejoin="round"/>
<path d="M385 480.55 L408.94 480.55 L408.94 490.97 L408.29 503.94 L408.94 529.88 L410.24 555.82 L411.53 581.75 L410.88 594.72 L408.94 607.69 L406.34 620.66 L405.7 627.65 L386.89 627.65 L385 607.69Z" fill="#ffe1aa"/>
<path d="M385 480.55 L397.27 480.55 L395.97 490.97 L394.67 516.91 L394.67 542.85 L394.02 568.78 L393.38 588.24 L390.78 601.21 L388.19 603.8 L385 603.8Z" fill="#ffa500"/>
<path d="M397.27 480.59 L399.86 485.78 L405.05 488.38 L406.34 493.56 L407.64 501.34" fill="none" stroke="#87ceeb" stroke-width="2.25" stroke-linejoin="round" stroke-linecap="round"/>
<path d="M385 480.55 L408.94 480.55 L408.94 490.97 L408.29 503.94 L408.94 529.88 L410.24 555.82 L411.53 581.75 L410.88 594.72 L408.94 607.69 L406.34 620.66 L405.7 627.65 L386.89 627.65 L385 607.69Z" fill="none" stroke="#ffa500" stroke-width="2.3" stroke-linejoin="round"/>
</g>
<g clip-path="url(#c42)">
<path d="M384 638.9 L494.54 638.9 L495.83 644.78 L498.43 649.97 L499.72 656.45 L499.72 665.53 L497.13 670.72 L498.43 675.91 L497.13 681.1 L493.24 686.28 L488.05 690.17 L484.16 695.36 L481.57 700.55 L476.38 705.74 L469.89 709.63 L464.71 714.82 L460.82 720 L458.22 726.49 L455.63 731.68 L455.63 738.16 L451.74 742.05 L445.25 744.65 L440.06 745.94 L434.88 748.54 L428.39 751.13 L421.91 752.43 L416.72 755.02 L412.83 757.61 L403.75 761.51 L395.97 766.69 L388.19 766.69 L384 765.4Z" fill="#d7eff8" stroke="#87ceeb" stroke-width="2.25" stroke-linejoin="round"/>
<path d="M390.78 638.9 L414.13 638.9 L418.02 649.97 L424.5 653.86 L430.99 660.34 L436.17 668.13 L437.47 675.91 L434.88 682.39 L434.88 691.47 L433.58 699.25 L432.28 704.44 L428.39 712.22 L423.2 717.41 L418.02 722.6 L414.13 727.78 L402.45 734.27 L393.38 739.46 L384 742.05 L384 647.38 L390.78 644.78Z" fill="#87ceeb" stroke="#87ceeb" stroke-width="2.25" stroke-linejoin="round"/>
<path d="M434.88 640.89 L442.66 640.89 L443.96 647.38 L440.06 652.56 L436.17 649.97 L434.23 644.78Z" fill="#87ceeb"/>
<path d="M385 784.85 L385 691.47 L387.54 690.82 L390.78 695.36 L394.67 700.55 L398.56 705.74 L403.75 707.68 L407.64 712.22 L410.24 720 L414.13 727.78 L416.72 734.27 L416.72 744.65 L414.13 753.72 L408.94 761.51 L405.05 769.29 L399.86 775.77 L393.38 780.96 L388.19 784.85Z" fill="#ffe1aa"/>
<path d="M385 726.49 L389.48 727.78 L393.38 734.27 L395.97 743.35 L395.97 753.72 L393.38 762.8 L389.48 769.29 L385 771.88Z" fill="#ffa500"/>
<path d="M386.89 743.35 L393.38 740.75 L402.45 735.57 L414.13 727.78" fill="none" stroke="#87ceeb" stroke-width="2.25" stroke-linejoin="round" stroke-linecap="round"/>
<path d="M386.89 765.4 L395.97 766.04 L403.75 761.51 L412.83 757.61" fill="none" stroke="#87ceeb" stroke-width="2.25" stroke-linejoin="round" stroke-linecap="round"/>
<path d="M385 784.85 L385 691.47 L387.54 690.82 L390.78 695.36 L394.67 700.55 L398.56 705.74 L403.75 707.68 L407.64 712.22 L410.24 720 L414.13 727.78 L416.72 734.27 L416.72 744.65 L414.13 753.72 L408.94 761.51 L405.05 769.29 L399.86 775.77 L393.38 780.96 L388.19 784.85Z" fill="none" stroke="#ffa500" stroke-width="2.3" stroke-linejoin="round"/>
<ellipse cx="420.61" cy="739.46" rx="0.65" ry="2.2" fill="none" stroke="#ffa500" stroke-width="1.6"/>
</g>
<g clip-path="url(#c52)">
<path d="M384 846.28 L388.19 844.99 L393.38 846.93 L397.27 848.88 L403.75 847.58 L410.24 844.99 L416.72 842.39 L424.5 839.8 L432.28 837.2 L438.77 834.61 L445.25 832.02 L453.03 828.77 L460.82 826.18 L468.6 824.24 L476.38 822.29 L484.16 819.7 L491.94 817.75 L497.13 817.1 L502.32 817.1 L502.32 821.64 L501.02 829.42 L501.02 835.91 L497.13 842.39 L491.94 847.58 L486.75 851.47 L482.86 856.66 L481.57 861.85 L480.27 868.33 L476.38 874.82 L472.49 880 L471.19 885.19 L467.3 891.68 L463.41 898.16 L460.82 904.65 L458.22 911.13 L456.92 915.02 L450.44 917.61 L443.96 921.51 L437.47 925.4 L432.28 927.99 L425.8 930.58 L419.31 934.47 L412.83 936.42 L407.64 937.07 L402.45 939.66 L397.27 942.26 L393.38 947.35 L384 947.35Z" fill="#d7eff8" stroke="#87ceeb" stroke-width="2.25" stroke-linejoin="round"/>
<path d="M384 856.01 L395.97 855.36 L408.94 851.47 L418.02 848.88 L424.5 846.93 L432.28 844.99 L438.77 842.39 L445.25 841.1 L453.03 841.1 L456.92 843.04 L454.33 845.63 L449.14 848.88 L445.25 855.36 L438.77 860.55 L434.88 865.74 L432.28 872.22 L427.1 877.41 L423.2 885.19 L419.31 894.27 L415.42 903.35 L411.53 911.13 L407.64 916.32 L395.97 924.1 L384 926.69Z" fill="#87ceeb" stroke="#87ceeb" stroke-width="2.25" stroke-linejoin="round"/>
<path d="M385 946.35 L385 867.03 L388.19 864.44 L395.97 861.2 L403.75 859.9 L408.94 860.55 L411.53 864.44 L412.83 869.63 L414.13 874.82 L412.83 887.78 L411.53 900.75 L408.94 913.72 L407.64 926.69 L407.64 931.88 L403.75 937.07 L398.56 940.96 L394.67 944.85 L392.08 946.35Z" fill="#ffe1aa"/>
<path d="M385 946.35 L385 876.11 L389.48 876.11 L392.08 877.41 L394.02 887.78 L394.67 900.75 L394.67 913.72 L394.67 926.69 L393.38 939.66 L390.78 944.85 L388.19 946.35Z" fill="#ffa500"/>
<path d="M407.64 915.02 L401.16 921.51 L394.67 925.4" fill="none" stroke="#87ceeb" stroke-width="2.25" stroke-linejoin="round" stroke-linecap="round"/>
<path d="M386.89 929.29 L390.78 927.34" fill="none" stroke="#87ceeb" stroke-width="2.25" stroke-linejoin="round" stroke-linecap="round"/>
<path d="M385 946.35 L385 867.03 L388.19 864.44 L395.97 861.2 L403.75 859.9 L408.94 860.55 L411.53 864.44 L412.83 869.63 L414.13 874.82 L412.83 887.78 L411.53 900.75 L408.94 913.72 L407.64 926.69 L407.64 931.88 L403.75 937.07 L398.56 940.96 L394.67 944.85 L392.08 946.35Z" fill="none" stroke="#ffa500" stroke-width="2.3" stroke-linejoin="round"/>
</g>
<g clip-path="url(#c62)">
<path d="M384 957.6 L493.24 957.6 L493.24 962.48 L489.35 966.38 L489.35 972.86 L488.05 976.75 L491.94 979.34 L494.54 981.94 L494.54 987.13 L490.65 989.72 L485.46 989.72 L481.57 992.31 L478.97 1000.1 L477.68 1007.88 L477.68 1018.25 L477.68 1027.33 L481.57 1033.82 L482.86 1041.6 L484.16 1049.38 L485.46 1055.86 L484.16 1063.65 L482.86 1070.13 L482.86 1076.61 L486.75 1080.51 L489.35 1084.4 L486.75 1086.99 L482.86 1089.58 L482.86 1093.47 L485.46 1094.77 L489.35 1089.58 L490.65 1086.99 L493.24 1092.18 L495.83 1098.66 L497.13 1106.7 L384 1106.7Z" fill="#d7eff8" stroke="#87ceeb" stroke-width="2.25" stroke-linejoin="round"/>
<ellipse cx="491.29" cy="998.15" rx="1.04" ry="2.33" fill="#d7eff8" stroke="#87ceeb" stroke-width="2.25"/>
<path d="M411.53 957.6 L440.06 957.6 L440.06 961.19 L436.17 966.38 L432.28 970.27 L432.28 978.05 L433.58 983.24 L437.47 988.42 L442.66 989.72 L443.96 994.91 L440.06 998.8 L434.88 998.8 L429.69 997.5 L425.8 1002.69 L423.2 1010.47 L423.2 1018.25 L424.5 1023.44 L425.8 1029.92 L424.5 1037.71 L420.61 1044.19 L419.31 1053.27 L418.02 1063.65 L416.72 1075.32 L416.72 1085.69 L415.42 1096.07 L415.42 1106.7 L394.67 1106.7 L402.45 1072.72 L408.94 1033.82 L411.53 994.91Z" fill="#87ceeb" stroke="#87ceeb" stroke-width="2.25" stroke-linejoin="round"/>
<path d="M385 958.6 L416.72 958.6 L415.42 968.97 L414.13 981.94 L412.83 994.91 L411.53 1007.88 L408.94 1020.85 L406.34 1033.82 L403.75 1046.78 L401.16 1059.75 L399.86 1072.72 L397.27 1085.69 L394.67 1098.66 L393.38 1105.7 L385 1105.7Z" fill="#ffe1aa"/>
<path d="M418.67 957.6 L421.26 959.89 L421.65 964.43 L419.96 966.12 L418.28 963.13Z" fill="#ffe1aa"/>
<path d="M385 958.6 L399.21 958.6 L399.21 963.78 L397.27 975.45 L394.67 992.31 L392.08 1007.88 L389.48 1020.85 L388.19 1033.82 L385 1033.82Z" fill="#ffa500"/>
<path d="M385 958.6 L416.72 958.6 L415.42 968.97 L414.13 981.94 L412.83 994.91 L411.53 1007.88 L408.94 1020.85 L406.34 1033.82 L403.75 1046.78 L401.16 1059.75 L399.86 1072.72 L397.27 1085.69 L394.67 1098.66 L393.38 1105.7 L385 1105.7Z" fill="none" stroke="#ffa500" stroke-width="2.3" stroke-linejoin="round"/>
<path d="M418.67 957.6 L421.26 959.89 L421.65 964.43 L419.96 966.12 L418.28 963.13Z" fill="none" stroke="#ffa500" stroke-width="2.3"/>
</g>
<g clip-path="url(#c43)">
<path d="M543.35 638.9 L692.45 638.9 L692.45 735.57 L679.47 735.57 L671.69 740.75 L645.75 742.7 L619.82 747.24 L593.88 751.13 L574.42 752.43 L554.97 756.32 L543.35 758.91Z" fill="#d7eff8" stroke="#87ceeb" stroke-width="2.25" stroke-linejoin="round"/>
<path d="M543.35 638.9 L549.78 638.9 L552.38 643.48 L557.56 643.48 L564.05 638.9 L593.88 638.9 L595.17 646.08 L601.66 651.27 L610.74 653.86 L619.82 657.75 L630.19 661.64 L640.57 662.94 L649.65 664.24 L658.72 670.72 L666.51 674.61 L669.1 681.1 L667.8 687.58 L663.91 691.47 L662.61 697.96 L658.72 701.85 L653.54 705.74 L643.16 710.92 L635.38 716.11 L622.41 714.82 L606.85 717.41 L600.36 720 L593.88 723.89 L580.91 726.49 L565.34 727.78 L557.56 731.68 L552.38 736.86 L545.89 739.46 L543.35 739.46Z" fill="#87ceeb" stroke="#87ceeb" stroke-width="2.25" stroke-linejoin="round"/>
<path d="M544.35 735.57 L549.78 732.97 L554.97 730.38 L561.45 725.19 L574.42 721.3 L587.39 718.71 L600.36 713.52 L613.33 710.92 L626.3 708.33 L639.27 707.03 L652.24 703.14 L665.21 701.85 L678.18 700.55 L684.66 696.66 L689.85 695.36 L691.45 696.66 L691.45 774.47 L684.66 775.77 L671.69 774.47 L658.72 774.47 L645.75 775.77 L632.78 777.07 L619.82 778.37 L606.85 779.66 L593.88 780.96 L580.91 780.96 L567.94 780.96 L557.56 779.66 L552.38 777.07 L544.35 775.77Z" fill="#ffe1aa"/>
<path d="M570.53 756.32 L574.42 751.13 L583.5 745.94 L593.88 742.05 L606.85 739.46 L619.82 738.81 L632.78 737.51 L645.75 735.57 L658.72 732.97 L671.69 727.78 L682.07 723.89 L688.55 722.6 L691.45 723.89 L691.45 764.1 L687.26 765.4 L678.18 762.8 L665.21 761.51 L652.24 761.51 L639.27 762.8 L626.3 764.1 L613.33 765.4 L600.36 766.69 L587.39 766.69 L574.42 764.1 L569.88 760.21Z" fill="#ffa500"/>
<path d="M545.24 739.46 L552.38 736.86 L557.56 731.68 L565.34 727.78 L580.91 726.49 L593.88 723.89 L600.36 720 L606.85 717.41 L622.41 714.82 L635.38 716.11 L640.57 712.22 L653.54 705.74 L665.21 702.49 L678.18 701.2 L684.66 697.96 L693.09 696.92" fill="none" stroke="#87ceeb" stroke-width="2.25" stroke-linejoin="round" stroke-linecap="round"/>
<path d="M544.59 758.91 L554.97 756.32 L574.42 752.43 L584.8 752.43 L596.47 749.83 L606.85 748.54 L619.82 747.24 L630.19 748.54 L640.57 742.05 L645.75 741.4 L649.65 744.65 L653.54 740.75 L661.32 739.46 L671.69 740.75 L676.88 738.16 L679.47 735.57 L684.66 734.92 L693.09 734.27" fill="none" stroke="#87ceeb" stroke-width="2.25" stroke-linejoin="round" stroke-linecap="round"/>
<path d="M544.35 735.57 L549.78 732.97 L554.97 730.38 L561.45 725.19 L574.42 721.3 L587.39 718.71 L600.36 713.52 L613.33 710.92 L626.3 708.33 L639.27 707.03 L652.24 703.14 L665.21 701.85 L678.18 700.55 L684.66 696.66 L689.85 695.36 L691.45 696.66 L691.45 774.47 L684.66 775.77 L671.69 774.47 L658.72 774.47 L645.75 775.77 L632.78 777.07 L619.82 778.37 L606.85 779.66 L593.88 780.96 L580.91 780.96 L567.94 780.96 L557.56 779.66 L552.38 777.07 L544.35 775.77Z" fill="none" stroke="#ffa500" stroke-width="2.3" stroke-linejoin="round"/>
</g>
<g clip-path="url(#c53)">
<path d="M543.35 874.82 L543.35 816.45 L545.89 814.51 L549.78 815.16 L554.97 819.05 L561.45 822.94 L567.94 826.83 L575.72 830.72 L583.5 834.61 L589.99 838.5 L596.47 844.99 L604.25 846.28 L610.74 850.17 L617.22 852.77 L622.41 859.25 L630.19 865.74 L637.97 872.22 L648.35 878.71 L656.13 885.19 L663.91 891.68 L671.69 896.86 L679.47 903.35 L687.26 908.54 L692.45 909.83 L692.45 909.83 L692.45 947.35 L682.07 947.35 L671.69 940.96 L658.72 934.47 L645.75 926.69 L632.78 920.21 L619.82 913.72 L606.85 907.24 L593.88 900.75 L580.91 895.57 L567.94 889.08 L554.97 882.6 L548.48 878.71 L543.35 877.41Z" fill="#d7eff8" stroke="#87ceeb" stroke-width="2.25" stroke-linejoin="round"/>
<path d="M543.35 834.61 L547.19 834.61 L553.67 838.5 L561.45 841.1 L570.53 844.99 L580.91 851.47 L591.28 856.66 L600.36 861.85 L610.74 867.03 L619.82 872.22 L630.19 878.71 L640.57 885.19 L652.24 892.97 L662.61 900.75 L671.69 908.54 L679.47 916.32 L685.96 921.51 L689.85 925.4 L692.45 926.69 L692.45 930.58 L689.85 930.58 L671.69 920.21 L645.75 908.54 L619.82 895.57 L593.88 883.89 L567.94 873.52 L554.97 868.33 L543.35 867.03Z" fill="#87ceeb" stroke="#87ceeb" stroke-width="2.25" stroke-linejoin="round"/>
<path d="M544.35 873.52 L544.35 860.55 L545.89 858.6 L552.38 859.25 L561.45 861.85 L574.42 865.74 L587.39 870.92 L600.36 876.11 L613.33 881.3 L626.3 887.78 L639.27 894.27 L652.24 902.05 L665.21 909.83 L678.18 918.91 L687.26 925.4 L691.45 926.69 L691.45 946.35 L680.77 946.35 L671.69 942.26 L658.72 935.77 L645.75 927.99 L632.78 921.51 L619.82 915.02 L606.85 908.54 L593.88 902.05 L580.91 896.86 L567.94 890.38 L554.97 883.89 L548.48 877.41Z" fill="#ffe1aa"/>
<path d="M571.83 878.71 L575.72 877.41 L587.39 880 L600.36 883.89 L613.33 889.08 L626.3 895.57 L639.27 902.05 L652.24 908.54 L665.21 916.32 L678.18 924.1 L687.26 927.99 L691.45 931.88 L691.45 946.35 L687.26 946.35 L678.18 940.96 L665.21 933.18 L652.24 925.4 L639.27 917.61 L626.3 909.83 L613.33 900.75 L600.36 892.97 L587.39 886.49 L575.72 882.6Z" fill="#ffa500"/>
<path d="M544.59 867.03 L554.97 868.33 L567.94 873.52 L593.88 883.89 L619.82 895.57 L645.75 908.54 L671.69 920.21 L689.85 930.58" fill="none" stroke="#87ceeb" stroke-width="2.25" stroke-linejoin="round" stroke-linecap="round"/>
<path d="M544.59 876.76 L554.97 881.3 L580.91 894.27 L606.85 905.94 L632.78 918.91 L658.72 933.18 L679.47 943.55 L684.66 946.15" fill="none" stroke="#87ceeb" stroke-width="2.25" stroke-linejoin="round" stroke-linecap="round"/>
<path d="M544.35 873.52 L544.35 860.55 L545.89 858.6 L552.38 859.25 L561.45 861.85 L574.42 865.74 L587.39 870.92 L600.36 876.11 L613.33 881.3 L626.3 887.78 L639.27 894.27 L652.24 902.05 L665.21 909.83 L678.18 918.91 L687.26 925.4 L691.45 926.69 L691.45 946.35 L680.77 946.35 L671.69 942.26 L658.72 935.77 L645.75 927.99 L632.78 921.51 L619.82 915.02 L606.85 908.54 L593.88 902.05 L580.91 896.86 L567.94 890.38 L554.97 883.89 L548.48 877.41Z" fill="none" stroke="#ffa500" stroke-width="2.3" stroke-linejoin="round"/>
</g>
<g clip-path="url(#c63)">
<path d="M543.35 957.6 L692.45 957.6 L692.45 1096.07 L685.96 1096.07 L684.66 1106.7 L543.35 1106.7Z" fill="#d7eff8" stroke="#87ceeb" stroke-width="2.25" stroke-linejoin="round"/>
<path d="M543.35 957.6 L692.45 957.6 L692.45 1085.69 L684.66 1090.88 L676.88 1096.07 L658.72 1085.69 L619.82 1077.91 L606.85 1075.32 L605.55 1079.21 L600.36 1083.1 L599.06 1088.29 L596.47 1094.77 L591.28 1096.07 L584.8 1093.47 L579.61 1093.47 L578.31 1106.7 L543.35 1106.7Z" fill="#87ceeb" stroke="#87ceeb" stroke-width="2.25" stroke-linejoin="round"/>
<ellipse cx="566.64" cy="1072.72" rx="2.59" ry="2.85" fill="#d7eff8" stroke="#87ceeb" stroke-width="2.25"/>
<path d="M544.35 958.6 L691.45 958.6 L691.45 1063.65 L687.26 1064.94 L685.96 1070.13 L682.07 1075.32 L678.18 1079.21 L674.29 1083.1 L675.58 1090.88 L676.88 1096.07 L675.58 1101.26 L675.58 1105.7 L666.51 1105.7 L665.21 1101.26 L660.02 1101.26 L658.72 1105.7 L652.24 1105.7 L650.94 1099.96 L645.75 1097.37 L640.57 1094.77 L632.78 1089.58 L626.3 1084.4 L619.82 1079.21 L614.63 1076.61 L606.85 1074.02 L601.66 1071.43 L596.47 1064.94 L591.28 1058.46 L584.8 1050.68 L578.31 1044.19 L573.13 1037.71 L567.94 1031.22 L564.05 1023.44 L560.16 1014.36 L556.27 1007.88 L552.38 1000.1 L548.48 994.91 L544.35 991.02 L544.35 988.42Z" fill="#ffe1aa"/>
<path d="M554.97 958.6 L691.45 958.6 L691.45 1003.99 L684.66 1001.39 L678.18 997.5 L665.21 994.91 L652.24 993.61 L639.27 994.91 L632.78 1000.1 L626.3 1005.28 L617.22 1007.88 L606.85 1009.17 L596.47 1006.58 L587.39 1000.1 L579.61 994.91 L573.13 989.72 L567.94 983.24 L561.45 975.45 L556.27 966.38Z" fill="#ffa500"/>
<path d="M591.28 959.24 L662.61 959.89 L658.72 966.38 L652.24 970.27 L654.83 978.05 L652.24 984.53 L654.83 989.72 L648.35 992.31 L645.75 998.8 L644.46 1001.39 L640.57 994.91 L636.68 993.61 L631.49 992.31 L625 993.61 L619.82 1000.1 L618.52 1007.88 L621.11 1018.25 L627.6 1023.44 L635.38 1022.14 L641.86 1026.03 L635.38 1029.92 L626.3 1033.82 L623.71 1046.78 L625 1057.16 L622.41 1068.83 L618.52 1076.61 L606.85 1074.02" fill="none" stroke="#87ceeb" stroke-width="2.25" stroke-linejoin="round" stroke-linecap="round"/>
<path d="M691.15 993.61 L683.37 1000.1 L682.07 1007.88 L678.18 1014.36 L676.88 1023.44 L683.37 1031.22 L684.66 1040.3 L683.37 1049.38 L685.96 1057.16 L691.15 1058.46" fill="none" stroke="#87ceeb" stroke-width="2.25" stroke-linejoin="round" stroke-linecap="round"/>
<path d="M684.66 958.59 L689.85 963.78 L691.15 971.56" fill="none" stroke="#87ceeb" stroke-width="2.25" stroke-linejoin="round" stroke-linecap="round"/>
<ellipse cx="634.73" cy="1008.53" rx="3.63" ry="2.33" fill="none" stroke="#87ceeb" stroke-width="2.25"/>
<ellipse cx="635.38" cy="1061.05" rx="3.89" ry="2.85" fill="none" stroke="#87ceeb" stroke-width="2.25"/>
<ellipse cx="628.89" cy="1074.02" rx="3.89" ry="2.33" fill="none" stroke="#87ceeb" stroke-width="2.25"/>
<path d="M544.35 958.6 L691.45 958.6 L691.45 1063.65 L687.26 1064.94 L685.96 1070.13 L682.07 1075.32 L678.18 1079.21 L674.29 1083.1 L675.58 1090.88 L676.88 1096.07 L675.58 1101.26 L675.58 1105.7 L666.51 1105.7 L665.21 1101.26 L660.02 1101.26 L658.72 1105.7 L652.24 1105.7 L650.94 1099.96 L645.75 1097.37 L640.57 1094.77 L632.78 1089.58 L626.3 1084.4 L619.82 1079.21 L614.63 1076.61 L606.85 1074.02 L601.66 1071.43 L596.47 1064.94 L591.28 1058.46 L584.8 1050.68 L578.31 1044.19 L573.13 1037.71 L567.94 1031.22 L564.05 1023.44 L560.16 1014.36 L556.27 1007.88 L552.38 1000.1 L548.48 994.91 L544.35 991.02 L544.35 988.42Z" fill="none" stroke="#ffa500" stroke-width="2.3" stroke-linejoin="round"/>
<ellipse cx="643.81" cy="1103.2" rx="1.95" ry="2.33" fill="none" stroke="#ffa500" stroke-width="1.6"/>
</g>
<g clip-path="url(#c54)">
<path d="M736.02 859.25 L742.5 851.47 L743.8 841.1 L747.69 837.2 L755.47 835.91 L765.85 833.31 L776.22 830.72 L785.3 828.13 L794.38 825.53 L803.46 821.64 L813.83 820.34 L822.91 820.99 L828.1 819.05 L833.29 821.64 L838.47 823.59 L851.8 823.59 L851.8 929.29 L843.66 930.58 L830.69 933.18 L817.72 937.07 L804.75 940.96 L800.86 947.35 L791.78 947.35 L791.78 939.66 L785.3 939.66 L772.33 940.96 L760.66 939.66 L755.47 934.47 L746.39 925.4 L739.91 916.32 L734.72 900.75 L732.13 887.78 L728.24 877.41 L726.29 873.52 L728.24 864.44Z" fill="#d7eff8" stroke="#87ceeb" stroke-width="2.25" stroke-linejoin="round"/>
<path d="M755.47 861.85 L765.85 856.66 L776.22 852.77 L786.6 850.17 L796.97 847.58 L807.35 846.28 L817.72 842.39 L825.51 839.8 L831.99 841.1 L838.47 843.69 L846.26 845.63 L851.8 846.28 L851.8 880 L848.85 882.6 L847.55 889.08 L839.77 892.97 L831.99 895.57 L825.51 899.46 L822.91 907.24 L817.72 911.13 L811.24 913.72 L807.35 915.02 L804.75 912.43 L798.27 912.43 L791.78 912.43 L786.6 912.43 L782.71 911.13 L778.82 905.94 L773.63 899.46 L767.14 895.57 L767.14 891.68 L763.25 885.19 L756.77 877.41 L752.88 870.92 L754.17 864.44Z" fill="#87ceeb" stroke="#87ceeb" stroke-width="2.25" stroke-linejoin="round"/>
<path d="M708.78 885.19 L708.78 874.82 L711.38 868.33 L717.86 863.14 L726.94 859.25 L737.31 857.96 L747.69 859.25 L756.77 861.85 L764.55 864.44 L768.44 869.63 L771.03 874.82 L776.22 880 L780.11 885.19 L782.71 894.27 L784 900.75 L786.6 907.24 L787.89 913.72 L786.6 920.21 L787.89 926.69 L789.19 933.18 L786.6 937.07 L781.41 939.66 L776.22 942.26 L771.03 944.85 L759.36 946.15 L739.91 946.15 L724.34 946.15 L721.75 943.55 L716.56 940.96 L715.27 933.18 L713.97 920.21 L712.67 907.24 L710.08 895.57Z" fill="#ffe1aa"/>
<path d="M721.75 887.78 L722.4 880 L726.94 874.82 L733.42 873.52 L739.91 874.82 L745.1 878.71 L748.99 885.19 L751.58 892.97 L752.88 900.75 L754.17 911.13 L756.77 920.21 L760.66 927.99 L763.25 933.18 L761.96 938.37 L756.77 940.96 L746.39 941.61 L736.02 940.96 L729.53 939.66 L728.24 934.47 L729.53 926.69 L728.24 916.32 L725.64 907.24 L723.05 896.86Z" fill="#ffa500"/>
<path d="M736.02 859.25 L728.24 864.44 L726.29 873.52 L728.24 877.41 L732.13 887.78 L734.72 900.75 L739.91 916.32 L746.39 925.4 L755.47 934.47 L760.66 939.66 L772.33 940.96 L785.3 939.66 L791.78 939.66" fill="none" stroke="#87ceeb" stroke-width="2.25" stroke-linejoin="round" stroke-linecap="round"/>
<path d="M754.17 864.44 L752.88 870.92 L756.77 877.41 L763.25 885.19 L767.14 891.68 L767.14 895.57 L773.63 899.46 L778.82 905.94 L782.71 911.13 L786.6 912.43" fill="none" stroke="#87ceeb" stroke-width="2.25" stroke-linejoin="round" stroke-linecap="round"/>
<path d="M708.78 885.19 L708.78 874.82 L711.38 868.33 L717.86 863.14 L726.94 859.25 L737.31 857.96 L747.69 859.25 L756.77 861.85 L764.55 864.44 L768.44 869.63 L771.03 874.82 L776.22 880 L780.11 885.19 L782.71 894.27 L784 900.75 L786.6 907.24 L787.89 913.72 L786.6 920.21 L787.89 926.69 L789.19 933.18 L786.6 937.07 L781.41 939.66 L776.22 942.26 L771.03 944.85 L759.36 946.15 L739.91 946.15 L724.34 946.15 L721.75 943.55 L716.56 940.96 L715.27 933.18 L713.97 920.21 L712.67 907.24 L710.08 895.57Z" fill="none" stroke="#ffa500" stroke-width="2.3" stroke-linejoin="round"/>
</g>
<g clip-path="url(#c64)">
<path d="M738.61 957.6 L851.8 957.6 L851.8 1106.7 L745.1 1106.7 L745.1 1098.66 L741.2 1072.72 L739.91 1046.78 L738.61 1020.85 L737.31 1001.39 L739.91 981.94Z" fill="#d7eff8" stroke="#87ceeb" stroke-width="2.25" stroke-linejoin="round"/>
<path d="M768.44 957.6 L851.8 957.6 L851.8 1001.39 L843.66 1001.39 L835.88 1003.99 L834.58 1010.47 L831.99 1015.66 L830.69 1023.44 L829.4 1033.82 L828.1 1046.78 L826.8 1059.75 L828.1 1072.72 L824.21 1083.1 L825.51 1090.88 L821.61 1098.66 L820.32 1106.7 L794.38 1106.7 L791.78 1103.85 L784 1096.07 L780.11 1088.29 L778.82 1079.21 L784 1074.02 L781.41 1067.54 L776.22 1059.75 L773.63 1049.38 L774.92 1040.3 L774.92 1027.33 L772.33 1014.36 L774.92 1002.69 L772.33 994.91 L771.03 981.94 L768.44 968.97Z" fill="#87ceeb" stroke="#87ceeb" stroke-width="2.25" stroke-linejoin="round"/>
<path d="M707.48 958.6 L796.97 958.6 L796.97 963.78 L793.08 972.86 L790.49 981.94 L787.89 991.02 L784 998.8 L781.41 1010.47 L778.82 1023.44 L777.52 1033.82 L774.92 1046.78 L772.33 1059.75 L768.44 1072.72 L764.55 1083.1 L760.66 1092.18 L758.06 1102.55 L755.47 1105.15 L732.13 1105.15 L728.24 1096.07 L724.34 1085.69 L720.45 1072.72 L717.86 1059.75 L715.27 1046.78 L713.97 1033.82 L712.67 1020.85 L710.08 1007.88 L708.78 994.91 L708.78 975.45 L707.48 962.48Z" fill="#ffe1aa"/>
<path d="M718.51 958.6 L767.14 958.6 L766.49 963.78 L763.25 972.86 L760.01 980.64 L755.47 991.02 L751.58 998.8 L746.39 1010.47 L742.5 1015.66 L739.39 1016.7 L735.37 1015.01 L732.13 1009.17 L728.88 1001.39 L726.29 993.61 L723.05 981.94 L720.45 970.27Z" fill="#ffa500"/>
<path d="M738.61 958.59 L739.91 981.94 L737.31 1001.39 L738.61 1020.85 L739.91 1046.78 L741.2 1072.72 L745.1 1098.66 L745.74 1106.44" fill="none" stroke="#87ceeb" stroke-width="2.25" stroke-linejoin="round" stroke-linecap="round"/>
<path d="M768.44 959.89 L768.44 968.97 L771.03 981.94 L772.33 994.91 L774.92 1002.69 L772.33 1014.36 L774.92 1027.33 L774.92 1040.3 L773.63 1049.38" fill="none" stroke="#87ceeb" stroke-width="2.25" stroke-linejoin="round" stroke-linecap="round"/>
<path d="M707.48 958.6 L796.97 958.6 L796.97 963.78 L793.08 972.86 L790.49 981.94 L787.89 991.02 L784 998.8 L781.41 1010.47 L778.82 1023.44 L777.52 1033.82 L774.92 1046.78 L772.33 1059.75 L768.44 1072.72 L764.55 1083.1 L760.66 1092.18 L758.06 1102.55 L755.47 1105.15 L732.13 1105.15 L728.24 1096.07 L724.34 1085.69 L720.45 1072.72 L717.86 1059.75 L715.27 1046.78 L713.97 1033.82 L712.67 1020.85 L710.08 1007.88 L708.78 994.91 L708.78 975.45 L707.48 962.48Z" fill="none" stroke="#ffa500" stroke-width="2.3" stroke-linejoin="round"/>
</g>
<g clip-path="url(#c65)">
<path d="M873.97 957.6 L982.91 957.6 L982.91 968.97 L983.56 979.34 L980.32 989.72 L979.02 1001.39 L979.67 1014.36 L980.32 1027.33 L981.61 1041.6 L980.32 1057.16 L980.32 1070.13 L980.32 1083.1 L982.91 1093.47 L986.8 1096.07 L988.75 1101.26 L988.1 1106.7 L879.16 1106.7 L875.27 1098.66 L870.08 1088.29 L870.08 1079.21 L870.08 1066.24 L872.67 1062.35 L874.62 1053.27 L875.27 1033.82 L875.27 1014.36 L877.21 996.2 L873.97 992.31 L870.08 981.94 L870.73 968.97Z" fill="#d7eff8" stroke="#87ceeb" stroke-width="2.25" stroke-linejoin="round"/>
<path d="M902.5 957.6 L967.35 957.6 L967.35 968.97 L968.65 981.94 L966.05 994.91 L962.16 1001.39 L959.57 1010.47 L958.27 1020.85 L959.57 1033.82 L960.86 1046.78 L959.57 1059.75 L956.97 1072.72 L954.38 1085.69 L954.38 1098.66 L953.08 1106.7 L928.44 1106.7 L925.85 1102.55 L920.66 1099.96 L916.77 1092.18 L916.77 1084.4 L915.47 1076.61 L914.17 1070.13 L907.69 1067.54 L905.1 1059.75 L905.1 1049.38 L912.88 1046.78 L911.58 1041.6 L906.39 1036.41 L906.39 1028.63 L910.28 1022.14 L911.58 1014.36 L912.88 1007.88 L912.88 998.8 L907.69 996.2 L902.5 991.02 L902.5 981.94 L905.1 968.97Z" fill="#87ceeb" stroke="#87ceeb" stroke-width="2.25" stroke-linejoin="round"/>
<path d="M863.05 958.6 L950.49 958.6 L950.49 968.97 L949.19 981.94 L946.6 994.91 L944 1007.88 L941.41 1020.85 L938.82 1031.22 L934.92 1041.6 L931.03 1051.97 L925.85 1062.35 L919.36 1072.72 L914.17 1080.51 L911.58 1086.99 L907.69 1092.18 L902.5 1096.07 L898.61 1098.66 L898.61 1105.15 L880.45 1105.15 L877.86 1096.07 L876.56 1079.21 L873.97 1059.75 L871.38 1040.3 L868.78 1020.85 L866.19 1001.39 L863.05 993.61 L863.05 992.31Z" fill="#ffe1aa"/>
<path d="M863.05 958.6 L942.71 958.6 L941.41 966.38 L938.82 975.45 L936.22 985.83 L931.03 997.5 L924.55 1006.58 L916.77 1011.77 L910.28 1010.47 L905.1 1005.28 L901.2 997.5 L896.02 993.61 L886.94 992.31 L880.45 993.61 L876.56 994.91 L871.38 992.31 L867.48 988.42 L863.05 985.83 L863.05 985.83Z" fill="#ffa500"/>
<path d="M873.97 958.59 L870.73 968.97 L870.08 981.94 L873.97 992.31 L877.21 996.2 L875.27 1014.36 L875.27 1033.82 L874.62 1053.27 L872.67 1062.35" fill="none" stroke="#87ceeb" stroke-width="2.25" stroke-linejoin="round" stroke-linecap="round"/>
<path d="M915.47 1076.61 L914.17 1070.13 L907.69 1067.54 L905.1 1059.75 L905.1 1049.38 L912.88 1046.78 L911.58 1041.6 L906.39 1036.41 L906.39 1028.63 L910.28 1022.14 L911.58 1014.36 L912.88 1007.88 L912.88 998.8 L907.69 996.2 L902.5 991.02 L902.5 981.94 L905.1 968.97 L902.5 959.89" fill="none" stroke="#87ceeb" stroke-width="2.25" stroke-linejoin="round" stroke-linecap="round"/>
<path d="M863.05 958.6 L950.49 958.6 L950.49 968.97 L949.19 981.94 L946.6 994.91 L944 1007.88 L941.41 1020.85 L938.82 1031.22 L934.92 1041.6 L931.03 1051.97 L925.85 1062.35 L919.36 1072.72 L914.17 1080.51 L911.58 1086.99 L907.69 1092.18 L902.5 1096.07 L898.61 1098.66 L898.61 1105.15 L880.45 1105.15 L877.86 1096.07 L876.56 1079.21 L873.97 1059.75 L871.38 1040.3 L868.78 1020.85 L866.19 1001.39 L863.05 993.61 L863.05 992.31Z" fill="none" stroke="#ffa500" stroke-width="2.3" stroke-linejoin="round"/>
</g>
<g clip-path="url(#h0)" fill="none" stroke-linejoin="miter">
<path d="M71.78 151.48V147.8H74.48V144.37H77.18V140.72H79.87V136.1H82.57V130.7H85.27V125.78H87.97V120.07H90.66V114H93.36V109.35H96.06V103.15H98.76V98.08H101.46V93.88H104.15V90.46H106.85V88.79H109.55V87.44H112.25V86.09H114.94V84.74H117.64V83.09H120.34V84.51H123.04V85.41H125.73V88.26H128.43V91.07H131.13V94.18H133.83V98.42H136.52V103.37H139.22V106.67H141.92V109.4H144.62V110.94H147.31V114.03H150.01V116.01H152.71V124.71H155.41V130.96H158.11V128.4H160.8V131.66H163.5V139.76H166.2V143.65H168.9V146.03H171.59V147.85H174.29V149.16H176.99V149.64H179.69V150.08H182.38V150.3H185.08V150.51H187.78V150.73H190.48V150.94H193.17V151.12H195.87V151.2H198.57V151.28H201.27V151.36H203.96V151.44H206.66V151.48" stroke="#87ceeb" stroke-width="2.0"/>
<path d="M70.48 151.48V120.41H71.65V115.03H72.82V100.43H73.99V87.74H75.15V77.17H76.32V65.49H77.49V57.84H78.66V48.51H79.82V39.07H80.99V35.87H82.16V28.84H83.32V26.78H84.49V25.29H85.66V25.29H86.83V29.86H87.99V30.45H89.16V31.03H90.33V33.56H91.49V36.48H92.66V39.32H93.83V42.12H95V44.93H96.16V42.15H97.33V38.06H98.5V33.01H99.67V28.44H100.83V20.83H102V14.75H103.17V18.76H104.33V39.84H105.5V62.82H106.67V84.58H107.84V102.78H109V118.6H110.17V128.78H111.34V135.79H112.51V141.58H113.67V145.47H114.84V147.82H116.01V149.57H117.17V150.5H118.34V150.6H119.51V150.7H120.68V150.81H121.84V150.91H123.01V151.01H124.18V151.12H125.34V151.22H126.51V151.33H127.68V151.43H128.85V151.48" stroke="#ffa500" stroke-width="2.0"/>
</g>
<g clip-path="url(#h1)" fill="none" stroke-linejoin="miter">
<path d="M230.78 311.48V303.83H231.82V303.57H232.86V303.31H233.89V303.05H234.93V302.79H235.97V302.61H237.01V302.51H238.04V302.4H239.08V302.3H240.12V302.2H241.16V302.09H242.19V302H243.23V301.97H244.27V301.93H245.31V301.89H246.34V301.85H247.38V301.81H248.42V301.77H249.46V301.73H250.49V301.69H251.53V301.65H252.57V301.65H253.61V301.74H254.65V301.82H255.68V301.91H256.72V302H257.76V302.09H258.8V302.18H259.83V302.27H260.87V302.36H261.91V302.47H262.95V302.6H263.98V302.73H265.02V302.86H266.06V302.99H267.1V303.12H268.13V303.25H269.17V303.38H270.21V303.51H271.25V303.63H272.28V303.76H273.32V303.88H274.36V304H275.4V304.12H276.43V304.24H277.47V304.37H278.51V304.49H279.55V304.61H280.58V304.78H281.62V304.95H282.66V305.13H283.7V305.3H284.73V305.47H285.77V305.65H286.81V305.82H287.85V305.99H288.88V306.16H289.92V306.34H290.96V306.51H292V306.68H293.03V306.86H294.07V307.03H295.11V307.2H296.15V307.32H297.18V307.43H298.22V307.55H299.26V307.66H300.3V307.78H301.33V307.89H302.37V308.01H303.41V308.12H304.45V308.24H305.48V308.35H306.52V308.47H307.56V308.58H308.6V308.68H309.63V308.78H310.67V308.89H311.71V308.99H312.75V309.09H313.78V309.2H314.82V309.3H315.86V309.41H316.9V309.51H317.94V309.61H318.97V309.72H320.01V309.81H321.05V309.86H322.09V309.91H323.12V309.96H324.16V310.02H325.2V310.07H326.24V310.12H327.27V310.17H328.31V310.22H329.35V310.28H330.39V310.33H331.42V310.38H332.46V310.43H333.5V310.46H334.54V310.48H335.57V310.5H336.61V310.52H337.65V310.54H338.69V310.56H339.72V310.58H340.76V310.6H341.8V310.63H342.84V310.65H343.87V310.67H344.91V310.69H345.95V310.71H346.99V310.73H348.02V310.75H349.06V310.77H350.1V310.79H351.14V310.81H352.17V310.83H353.21V310.85H354.25V310.87H355.29V310.88H356.32V310.9H357.36V310.92H358.4V310.94H359.44V310.95H360.47V310.97H361.51V310.99H362.55V311.01H363.59V311.02H364.62V311.04H365.66V311.06H366.7V311.07H367.74V311.09H368.77V311.11H369.81V311.13H370.85V311.14H371.89V311.16H372.92V311.18H373.96V311.2H375V311.21H376.04V311.48" stroke="#87ceeb" stroke-width="2.0"/>
<path d="M230.13 311.48V172.97H231.17V209.02H232.2V232.47H233.24V241.86H234.27V255.2H235.3V270.75H236.34V280.58H237.37V288.21H238.41V293.43H239.44V296.87H240.47V299.62H241.51V301.8H242.54V303.87H243.58V305.6H244.61V306.63H245.64V307.67H246.68V308.7H247.71V309.32H248.75V309.63H249.78V309.94H250.81V310.25H251.85V310.56H252.88V310.72H253.92V310.76H254.95V310.79H255.98V310.83H257.02V310.86H258.05V310.89H259.09V310.93H260.12V310.96H261.15V311H262.19V311.03H263.22V311.07H264.26V311.1H265.29V311.14H266.32V311.17H267.36V311.2H268.39V311.48" stroke="#ffa500" stroke-width="2.0"/>
</g>
<g clip-path="url(#h2)" fill="none" stroke-linejoin="miter">
<path d="M390.78 470.48V451.55H391.82V452.06H392.86V452.58H393.89V453.1H394.93V453.62H395.97V454.04H397.01V454.35H398.04V454.66H399.08V454.97H400.12V455.28H401.16V455.59H402.19V455.9H403.23V456.22H404.27V456.53H405.31V456.84H406.34V457.15H407.38V457.46H408.42V457.77H409.46V457.98H410.49V458.19H411.53V458.39H412.57V458.6H413.61V458.81H414.65V459.02H415.68V459.22H416.72V459.43H417.76V459.64H418.8V459.85H419.83V460.05H420.87V460.26H421.91V460.52H422.95V460.83H423.98V461.14H425.02V461.45H426.06V461.77H427.1V462.08H428.13V462.36H429.17V462.57H430.21V462.78H431.25V462.98H432.28V463.19H433.32V463.4H434.36V463.61H435.4V463.71H436.43V463.82H437.47V463.92H438.51V464.02H439.55V464.13H440.58V464.23H441.62V464.41H442.66V464.62H443.7V464.83H444.73V465.03H445.77V465.24H446.81V465.45H447.85V465.62H448.88V465.75H449.92V465.88H450.96V466.01H452V466.14H453.03V466.27H454.07V466.4H455.11V466.53H456.15V466.66H457.18V466.78H458.22V466.92H459.26V467.07H460.3V467.22H461.33V467.37H462.37V467.52H463.41V467.67H464.45V467.81H465.48V467.96H466.52V468.11H467.56V468.22H468.6V468.33H469.63V468.43H470.67V468.54H471.71V468.64H472.75V468.74H473.78V468.85H474.82V468.95H475.86V469.05H476.9V469.16H477.94V469.26H478.97V469.37H480.01V469.45H481.05V469.47H482.09V469.49H483.12V469.51H484.16V469.53H485.2V469.55H486.24V469.57H487.27V469.59H488.31V469.61H489.35V469.64H490.39V469.66H491.42V469.68H492.46V469.7H493.5V469.72H494.54V469.74H495.57V469.76H496.61V469.78H497.65V469.8H498.69V469.82H499.72V469.84H500.76V469.85H501.8V469.86H502.84V469.87H503.87V469.88H504.91V469.89H505.95V469.91H506.99V469.92H508.02V469.93H509.06V469.94H510.1V469.95H511.14V469.96H512.17V469.97H513.21V469.98H514.25V469.99H515.29V470.01H516.32V470.02H517.36V470.03H518.4V470.04H519.44V470.05H520.47V470.06H521.51V470.07H522.55V470.08H523.59V470.09H524.62V470.11H525.66V470.12H526.7V470.13H527.74V470.14H528.77V470.15H529.81V470.16H530.85V470.17H531.89V470.18H532.92V470.19H533.96V470.21H535V470.22H536.04V470.48" stroke="#87ceeb" stroke-width="2.0"/>
<path d="M389.48 470.48V332.62H390.53V356.61H391.58V377.86H392.62V399.5H393.67V412.76H394.71V423.21H395.76V432.85H396.81V439.28H397.85V444.97H398.9V450.83H399.94V455.01H400.99V457.86H402.04V460.52H403.08V462.09H404.13V463.66H405.17V464.9H406.22V465.95H407.27V467H408.31V468.04H409.36V468.43H410.4V468.74H411.45V469.06H412.49V469.37H413.54V469.68H414.59V469.77H415.63V469.84H416.68V469.91H417.72V469.98H418.77V470.05H419.82V470.12H420.86V470.19H421.91V470.48" stroke="#ffa500" stroke-width="2.0"/>
</g>
<g clip-path="url(#h3)" fill="none" stroke-linejoin="miter">
<path d="M548.74 629.48V551.92H551.49V562.3H554.23V562.46H556.98V562.75H559.72V559.96H562.47V555.82H565.21V563.1H567.95V563.45H570.7V557.11H573.44V566.84H576.19V566.84H578.93V566.84H581.68V567.91H584.42V568.04H587.16V566.84H589.91V569.82H592.65V568.78H595.4V572.74H598.14V573.28H600.89V573.83H603.63V573.97H606.37V573.97H609.12V577.86H611.86V577.86H614.61V580.77H617.35V581.99H620.1V583.02H622.84V582.74H625.58V582.47H628.33V582.58H631.07V582.81H633.82V583.04H636.56V583.05H639.31V583.05H642.05V586.94H644.79V586.94H647.54V588.93H650.28V589.16H653.03V589.39H655.77V592.13H658.52V592.13H661.26V592.13H664V594.84H666.75V596.67H669.49V599.83H672.24V599.38H674.98V598.92H677.73V598.61H680.47V602.84H683.21V605.04H685.96V629.48" stroke="#87ceeb" stroke-width="2.0"/>
<path d="M548.74 629.48V622.76H551.5V621.71H554.26V619.99H557.02V616.82H559.77V613.18H562.53V609.85H565.29V606.04H568.04V602.22H570.8V598.91H573.56V595.28H576.32V592.4H579.07V591.61H581.83V588.13H584.59V585.19H587.35V582.39H590.1V580.78H592.86V577.46H595.62V576.3H598.37V574.93H601.13V573.76H603.89V573.07H606.65V572.97H609.4V573.77H612.16V574.64H614.92V574.92H617.68V575.19H620.43V575.27H623.19V575.27H625.95V574.69H628.7V575.24H631.46V575.93H634.22V576.68H636.98V577.82H639.73V577.47H642.49V577.39H645.25V577.86H648.01V577.86H650.76V577.86H653.52V576.98H656.28V575.42H659.03V573.35H661.79V570.82H664.55V568.07H667.31V564.42H670.06V558.91H672.82V550.98H675.58V537.93H678.34V528.62H681.09V512.53H683.85V492.27H686.61V629.48" stroke="#ffa500" stroke-width="2.0"/>
</g>
<g clip-path="url(#h4)" fill="none" stroke-linejoin="miter">
<path d="M713.97 788.48V788.06H716.78V788.01H719.6V787.95H722.41V787.9H725.23V787.84H728.04V787.33H730.86V786.73H733.67V785.32H736.49V783.6H739.3V781.59H742.12V779.24H744.93V776.47H747.74V773.66H750.56V771.13H753.37V768.68H756.19V765.45H759V761.54H761.82V758.17H764.63V754.88H767.45V752.76H770.26V750.5H773.08V747.68H775.89V740.63H778.71V739.83H781.52V739.27H784.33V738.92H787.15V738.48H789.96V738.49H792.78V739.55H795.59V739.66H798.41V738.75H801.22V738.04H804.04V737.17H806.85V736.56H809.67V737.61H812.48V738.84H815.3V738.67H818.11V738.34H820.92V738.62H823.74V742.09H826.55V746.55H829.37V749.87H832.18V751.28H835V752.6H837.81V753.54H840.63V747.89H843.44V757.26H846.26V788.48" stroke="#87ceeb" stroke-width="2.0"/>
<path d="M706.19 788.48V787.86H708.98V787H711.77V782.2H714.56V773.67H717.35V762.27H720.14V748.32H722.93V724.71H725.72V700.3H728.51V677.36H731.3V663.96H734.09V653.77H736.88V651.53H739.67V651.27H742.46V665.62H745.25V680.23H748.04V696.78H750.83V714.01H753.62V729.3H756.41V741.96H759.2V754.43H761.99V763.86H764.79V771.66H767.58V776H770.37V780.1H773.16V783.18H775.95V784.76H778.74V785.99H781.53V787.04H784.32V787.59H787.11V787.82H789.9V788.05H792.69V788.14H795.48V788.19H798.27V788.48" stroke="#ffa500" stroke-width="2.0"/>
</g>
<g clip-path="url(#h5)" fill="none" stroke-linejoin="miter">
<path d="M867.48 948.48V947.4H870.25V945.8H873.01V942.12H875.78V938.43H878.55V933.84H881.31V926.46H884.08V918.72H886.84V913.09H889.61V908.22H892.37V903.34H895.14V899.37H897.9V896.64H900.67V895.72H903.43V891.71H906.2V888.69H908.96V887.76H911.73V886.84H914.49V883.94H917.26V876.26H920.02V871.48H922.79V868.25H925.55V863.56H928.32V858.03H931.08V853.21H933.85V848.27H936.61V844.51H939.38V842.72H942.14V842.39H944.91V845.67H947.67V851.92H950.44V860.73H953.2V868.24H955.97V872.37H958.73V881.28H961.5V897.01H964.26V907.01H967.03V918.1H969.8V926.51H972.56V933.4H975.33V938.79H978.09V942.56H980.86V944.4H983.62V945.63H986.39V946.67H989.15V947.07H991.92V947.39H994.68V947.71H997.45V947.87H1000.21V947.93H1002.98V948H1005.74V948.06H1008.51V948.13H1011.27V948.19H1014.04V948.48" stroke="#87ceeb" stroke-width="2.0"/>
<path d="M866.19 948.48V947.78H868.07V917.61H869.95V859.9H871.83V824.24H873.71V810.62H875.6V810.62H877.48V823.59H879.36V839.74H881.24V858.84H883.12V861.46H885.01V864.25H886.89V867.07H888.77V869.76H890.65V871.17H892.53V869.21H894.41V866.82H896.3V866.19H898.18V865.23H900.06V863.35H901.94V860.89H903.82V857.88H905.71V856.4H907.59V854.52H909.47V852.64H911.35V850.58H913.23V848.23H915.11V847.76H917V847.87H918.88V848.34H920.76V848.81H922.64V853.26H924.52V856.09H926.41V859.66H928.29V874.19H930.17V879.35H932.05V892.54H933.93V900.54H935.81V913H937.7V919.59H939.58V927.02H941.46V933.46H943.34V937.63H945.22V940.96H947.11V943.78H948.99V946.6H950.87V947.66H952.75V947.98H954.63V948.11H956.51V948.14H958.4V948.17H960.28V948.21H962.16V948.48" stroke="#ffa500" stroke-width="2.0"/>
</g>
<g clip-path="url(#h6)" fill="none" stroke-linejoin="miter">
<path d="M1026.74 1107.48V1086.7H1029.48V1086.13H1032.22V1085.57H1034.96V1085.02H1037.7V1084.47H1040.44V1084.63H1043.18V1084.91H1045.92V1084.64H1048.66V1083.82H1051.4V1083.1H1054.14V1083.1H1056.87V1083.1H1059.61V1082.68H1062.35V1082.14H1065.09V1081.7H1067.83V1081.42H1070.57V1081.16H1073.31V1081.32H1076.05V1081.49H1078.79V1081.86H1081.53V1082.34H1084.27V1080.63H1087V1081.07H1089.74V1081.51H1092.48V1081.39H1095.22V1081.23H1097.96V1081H1100.7V1080.73H1103.44V1080.53H1106.18V1080.64H1108.92V1080.74H1111.66V1080.67H1114.4V1080.57H1117.13V1080.38H1119.87V1080.11H1122.61V1079.74H1125.35V1078.37H1128.09V1077.91H1130.83V1072.72H1133.57V1077.17H1136.31V1075.52H1139.05V1074.72H1141.79V1074.03H1144.53V1071.87H1147.26V1071.67H1150V1071.97H1152.74V1072.76H1155.48V1073.79H1158.22V1070.13H1160.96V1070.13H1163.7V1107.48" stroke="#87ceeb" stroke-width="2.0"/>
<path d="M1026.74 1107.48V1106.95H1029.5V1106.66H1032.26V1106.38H1035.02V1106.1H1037.77V1105.83H1040.53V1105.55H1043.29V1105.27H1046.04V1104.92H1048.8V1104.51H1051.56V1104.1H1054.32V1103.68H1057.07V1103.27H1059.83V1102.74H1062.59V1102.19H1065.35V1101.64H1068.1V1101.09H1070.86V1100.54H1073.62V1099.98H1076.37V1099.43H1079.13V1098.67H1081.89V1097.84H1084.65V1096.89H1087.4V1095.79H1090.16V1094.69H1092.92V1093.58H1095.68V1092.48H1098.43V1091.18H1101.19V1089.8H1103.95V1088.42H1106.7V1087.04H1109.46V1085.65H1112.22V1083.58H1114.98V1081.52H1117.73V1079.45H1120.49V1077.2H1123.25V1074.44H1126.01V1071.69H1128.76V1068.93H1131.52V1066.13H1134.28V1061.53H1137.03V1056.37H1139.79V1050.86H1142.55V1044.32H1145.31V1036.35H1148.06V1028.08H1150.82V1019.07H1153.58V1007.84H1156.34V995.59H1159.09V981.06H1161.85V970.27H1164.61V1107.48" stroke="#ffa500" stroke-width="2.0"/>
</g>
<g stroke="#000" stroke-width="2.1"><line x1="113.5" y1="0.2" x2="113.5" y2="151.9"/><line x1="112.7" y1="159.55" x2="112.7" y2="311.25"/><line x1="64" y1="253.4" x2="215.7" y2="253.4"/><line x1="281.7" y1="159.55" x2="281.7" y2="311.25"/><line x1="112.7" y1="318.9" x2="112.7" y2="470.6"/><line x1="64" y1="440.2" x2="215.7" y2="440.2"/><line x1="281.8" y1="318.9" x2="281.8" y2="470.6"/><line x1="223.35" y1="440.2" x2="375.05" y2="440.2"/><line x1="414.9" y1="318.9" x2="414.9" y2="470.6"/><line x1="112.7" y1="478.25" x2="112.7" y2="629.95"/><line x1="64" y1="618" x2="215.7" y2="618"/><line x1="281.8" y1="478.25" x2="281.8" y2="629.95"/><line x1="223.35" y1="618" x2="375.05" y2="618"/><line x1="413.9" y1="478.25" x2="413.9" y2="629.95"/><line x1="382.7" y1="618" x2="534.4" y2="618"/><line x1="556.6" y1="478.25" x2="556.6" y2="629.95"/><line x1="112.7" y1="637.6" x2="112.7" y2="789.3"/><line x1="64" y1="698.7" x2="215.7" y2="698.7"/><line x1="281.8" y1="637.6" x2="281.8" y2="789.3"/><line x1="223.35" y1="698.7" x2="375.05" y2="698.7"/><line x1="413.9" y1="637.6" x2="413.9" y2="789.3"/><line x1="382.7" y1="698.7" x2="534.4" y2="698.7"/><line x1="554.2" y1="637.6" x2="554.2" y2="789.3"/><line x1="542.05" y1="698.7" x2="693.75" y2="698.7"/><line x1="790.6" y1="637.6" x2="790.6" y2="789.3"/><line x1="112.7" y1="796.95" x2="112.7" y2="948.65"/><line x1="64" y1="856.8" x2="215.7" y2="856.8"/><line x1="281.8" y1="796.95" x2="281.8" y2="948.65"/><line x1="223.35" y1="856.8" x2="375.05" y2="856.8"/><line x1="413.9" y1="796.95" x2="413.9" y2="948.65"/><line x1="382.7" y1="856.8" x2="534.4" y2="856.8"/><line x1="554.2" y1="796.95" x2="554.2" y2="948.65"/><line x1="542.05" y1="856.8" x2="693.75" y2="856.8"/><line x1="792.3" y1="796.95" x2="792.3" y2="948.65"/><line x1="701.4" y1="856.8" x2="853.1" y2="856.8"/><line x1="952.2" y1="796.95" x2="952.2" y2="948.65"/><line x1="112.7" y1="956.3" x2="112.7" y2="1108"/><line x1="64" y1="985.2" x2="215.7" y2="985.2"/><line x1="281.8" y1="956.3" x2="281.8" y2="1108"/><line x1="223.35" y1="985.2" x2="375.05" y2="985.2"/><line x1="413.9" y1="956.3" x2="413.9" y2="1108"/><line x1="382.7" y1="985.2" x2="534.4" y2="985.2"/><line x1="554.2" y1="956.3" x2="554.2" y2="1108"/><line x1="542.05" y1="985.2" x2="693.75" y2="985.2"/><line x1="792.3" y1="956.3" x2="792.3" y2="1108"/><line x1="701.4" y1="985.2" x2="853.1" y2="985.2"/><line x1="952.5" y1="956.3" x2="952.5" y2="1108"/><line x1="860.75" y1="985.2" x2="1012.45" y2="985.2"/><line x1="1141.5" y1="956.3" x2="1141.5" y2="1108"/></g>
<g fill="#000"><rect x="107.9" y="248.6" width="9.6" height="9.6"/><rect x="107.9" y="435.4" width="9.6" height="9.6"/><rect x="277" y="435.4" width="9.6" height="9.6"/><rect x="107.9" y="613.2" width="9.6" height="9.6"/><rect x="277" y="613.2" width="9.6" height="9.6"/><rect x="409.1" y="613.2" width="9.6" height="9.6"/><rect x="107.9" y="693.9" width="9.6" height="9.6"/><rect x="277" y="693.9" width="9.6" height="9.6"/><rect x="409.1" y="693.9" width="9.6" height="9.6"/><rect x="549.4" y="693.9" width="9.6" height="9.6"/><rect x="107.9" y="852" width="9.6" height="9.6"/><rect x="277" y="852" width="9.6" height="9.6"/><rect x="409.1" y="852" width="9.6" height="9.6"/><rect x="549.4" y="852" width="9.6" height="9.6"/><rect x="787.5" y="852" width="9.6" height="9.6"/><rect x="107.9" y="980.4" width="9.6" height="9.6"/><rect x="277" y="980.4" width="9.6" height="9.6"/><rect x="409.1" y="980.4" width="9.6" height="9.6"/><rect x="549.4" y="980.4" width="9.6" height="9.6"/><rect x="787.5" y="980.4" width="9.6" height="9.6"/><rect x="947.7" y="980.4" width="9.6" height="9.6"/></g>
<g fill="none" stroke="#000" stroke-width="1.1"><rect x="64" y="0.2" width="151.7" height="151.7"/><rect x="64" y="159.55" width="151.7" height="151.7"/><rect x="223.35" y="159.55" width="151.7" height="151.7"/><rect x="64" y="318.9" width="151.7" height="151.7"/><rect x="223.35" y="318.9" width="151.7" height="151.7"/><rect x="382.7" y="318.9" width="151.7" height="151.7"/><rect x="64" y="478.25" width="151.7" height="151.7"/><rect x="223.35" y="478.25" width="151.7" height="151.7"/><rect x="382.7" y="478.25" width="151.7" height="151.7"/><rect x="542.05" y="478.25" width="151.7" height="151.7"/><rect x="64" y="637.6" width="151.7" height="151.7"/><rect x="223.35" y="637.6" width="151.7" height="151.7"/><rect x="382.7" y="637.6" width="151.7" height="151.7"/><rect x="542.05" y="637.6" width="151.7" height="151.7"/><rect x="701.4" y="637.6" width="151.7" height="151.7"/><rect x="64" y="796.95" width="151.7" height="151.7"/><rect x="223.35" y="796.95" width="151.7" height="151.7"/><rect x="382.7" y="796.95" width="151.7" height="151.7"/><rect x="542.05" y="796.95" width="151.7" height="151.7"/><rect x="701.4" y="796.95" width="151.7" height="151.7"/><rect x="860.75" y="796.95" width="151.7" height="151.7"/><rect x="64" y="956.3" width="151.7" height="151.7"/><rect x="223.35" y="956.3" width="151.7" height="151.7"/><rect x="382.7" y="956.3" width="151.7" height="151.7"/><rect x="542.05" y="956.3" width="151.7" height="151.7"/><rect x="701.4" y="956.3" width="151.7" height="151.7"/><rect x="860.75" y="956.3" width="151.7" height="151.7"/><rect x="1020.1" y="956.3" width="151.7" height="151.7"/><path d="M70.8 151.9v4.86M102 151.9v4.86M133 151.9v4.86M164.1 151.9v4.86M195 151.9v4.86M68.5 311.25v4.86M100.5 311.25v4.86M132.7 311.25v4.86M165 311.25v4.86M197.2 311.25v4.86M64 307.3h-4.86M64 270.9h-4.86M64 234.9h-4.86M64 198.8h-4.86M64 163.3h-4.86M230.2 311.25v4.86M264.8 311.25v4.86M299.5 311.25v4.86M334.1 311.25v4.86M368.8 311.25v4.86M68.5 470.6v4.86M100.5 470.6v4.86M132.7 470.6v4.86M165 470.6v4.86M197.2 470.6v4.86M64 466.8h-4.86M64 431.8h-4.86M64 397.4h-4.86M64 362.9h-4.86M64 328.2h-4.86M227.3 470.6v4.86M263.7 470.6v4.86M299.7 470.6v4.86M335.8 470.6v4.86M371.3 470.6v4.86M223.35 466.8h-4.86M223.35 431.8h-4.86M223.35 397.4h-4.86M223.35 362.9h-4.86M223.35 328.2h-4.86M389.5 470.6v4.86M422.7 470.6v4.86M456 470.6v4.86M489.2 470.6v4.86M522.4 470.6v4.86M68.5 629.95v4.86M100.5 629.95v4.86M132.7 629.95v4.86M165 629.95v4.86M197.2 629.95v4.86M64 625.8h-4.86M64 590h-4.86M64 553.9h-4.86M64 518.4h-4.86M64 482.6h-4.86M227.3 629.95v4.86M263.7 629.95v4.86M299.7 629.95v4.86M335.8 629.95v4.86M371.3 629.95v4.86M223.35 625.8h-4.86M223.35 590h-4.86M223.35 553.9h-4.86M223.35 518.4h-4.86M223.35 482.6h-4.86M386.5 629.95v4.86M421.5 629.95v4.86M455.9 629.95v4.86M490.4 629.95v4.86M525.1 629.95v4.86M382.7 625.8h-4.86M382.7 590h-4.86M382.7 553.9h-4.86M382.7 518.4h-4.86M382.7 482.6h-4.86M548.9 629.95v4.86M583.4 629.95v4.86M618 629.95v4.86M652.4 629.95v4.86M686.8 629.95v4.86M68.5 789.3v4.86M100.5 789.3v4.86M132.7 789.3v4.86M165 789.3v4.86M197.2 789.3v4.86M64 756.5h-4.86M64 718.5h-4.86M64 680.2h-4.86M64 641.9h-4.86M227.3 789.3v4.86M263.7 789.3v4.86M299.7 789.3v4.86M335.8 789.3v4.86M371.3 789.3v4.86M223.35 756.5h-4.86M223.35 718.5h-4.86M223.35 680.2h-4.86M223.35 641.9h-4.86M386.5 789.3v4.86M421.5 789.3v4.86M455.9 789.3v4.86M490.4 789.3v4.86M525.1 789.3v4.86M382.7 756.5h-4.86M382.7 718.5h-4.86M382.7 680.2h-4.86M382.7 641.9h-4.86M546.2 789.3v4.86M582 789.3v4.86M618.1 789.3v4.86M653.6 789.3v4.86M689.4 789.3v4.86M542.05 756.5h-4.86M542.05 718.5h-4.86M542.05 680.2h-4.86M542.05 641.9h-4.86M733 789.3v4.86M770.6 789.3v4.86M808.3 789.3v4.86M846.1 789.3v4.86M68.5 948.65v4.86M100.5 948.65v4.86M132.7 948.65v4.86M165 948.65v4.86M197.2 948.65v4.86M64 932.6h-4.86M64 897.3h-4.86M64 861.5h-4.86M64 826h-4.86M227.3 948.65v4.86M263.7 948.65v4.86M299.7 948.65v4.86M335.8 948.65v4.86M371.3 948.65v4.86M223.35 932.6h-4.86M223.35 897.3h-4.86M223.35 861.5h-4.86M223.35 826h-4.86M386.5 948.65v4.86M421.5 948.65v4.86M455.9 948.65v4.86M490.4 948.65v4.86M525.1 948.65v4.86M382.7 932.6h-4.86M382.7 897.3h-4.86M382.7 861.5h-4.86M382.7 826h-4.86M546.2 948.65v4.86M582 948.65v4.86M618.1 948.65v4.86M653.6 948.65v4.86M689.4 948.65v4.86M542.05 932.6h-4.86M542.05 897.3h-4.86M542.05 861.5h-4.86M542.05 826h-4.86M734.2 948.65v4.86M772.2 948.65v4.86M810.5 948.65v4.86M848.8 948.65v4.86M701.4 932.6h-4.86M701.4 897.3h-4.86M701.4 861.5h-4.86M701.4 826h-4.86M879 948.65v4.86M913 948.65v4.86M947.2 948.65v4.86M981.5 948.65v4.86M68.5 1108v4.86M100.5 1108v4.86M132.7 1108v4.86M165 1108v4.86M197.2 1108v4.86M64 1103.8h-4.86M64 1067.8h-4.86M64 1032.3h-4.86M64 996.2h-4.86M64 960.2h-4.86M227.3 1108v4.86M263.7 1108v4.86M299.7 1108v4.86M335.8 1108v4.86M371.3 1108v4.86M223.35 1103.8h-4.86M223.35 1067.8h-4.86M223.35 1032.3h-4.86M223.35 996.2h-4.86M223.35 960.2h-4.86M386.5 1108v4.86M421.5 1108v4.86M455.9 1108v4.86M490.4 1108v4.86M525.1 1108v4.86M382.7 1103.8h-4.86M382.7 1067.8h-4.86M382.7 1032.3h-4.86M382.7 996.2h-4.86M382.7 960.2h-4.86M546.2 1108v4.86M582 1108v4.86M618.1 1108v4.86M653.6 1108v4.86M689.4 1108v4.86M542.05 1103.8h-4.86M542.05 1067.8h-4.86M542.05 1032.3h-4.86M542.05 996.2h-4.86M542.05 960.2h-4.86M734.2 1108v4.86M772.2 1108v4.86M810.5 1108v4.86M848.8 1108v4.86M701.4 1103.8h-4.86M701.4 1067.8h-4.86M701.4 1032.3h-4.86M701.4 996.2h-4.86M701.4 960.2h-4.86M876.8 1108v4.86M912.1 1108v4.86M947.9 1108v4.86M983.4 1108v4.86M860.75 1103.8h-4.86M860.75 1067.8h-4.86M860.75 1032.3h-4.86M860.75 996.2h-4.86M860.75 960.2h-4.86M1026.7 1108v4.86M1061.7 1108v4.86M1096.1 1108v4.86M1130.5 1108v4.86M1164.9 1108v4.86"/></g>
<path d="M760.5 178.45 760.75 185.5 761 190.11 761.25 180.4 761.5 179.29 761.75 187.12 762 187.18 762.25 176.45 762.5 178.15 762.75 186.5 763 188.52 763.25 177.9 763.5 178.98 763.75 186.4 764 188.65 764.25 175.72 764.5 179.56 764.75 188.54 765 188.93 765.25 178.14 765.5 178.7 765.75 186.36 766 187.82 766.25 177.5 766.5 178.46 766.75 186.17 767 186.68 767.25 178.94 767.5 176.82 767.75 187.6 768 188.88 768.25 179.96 768.5 176.38 768.75 186.71 769 192.33 769.25 179.01 769.5 178.47 769.75 186.04 770 190.4 770.25 177.3 770.5 177.76 770.75 187.99 771 184.42 771.25 177.66 771.5 179.83 771.75 187.31 772 186.27 772.25 176.41 772.5 176.6 772.75 186.59 773 185.08 773.25 176.85 773.5 175.68 773.75 188.38 774 186.04 774.25 179.14 774.5 179.39 774.75 187.74 775 188.24 775.25 174.83 775.5 179.26 775.75 187.55 776 187.12 776.25 177.97 776.5 179.6 776.75 187.7 777 187.96 777.25 179.16 777.5 176.73 777.75 188.05 778 191.02 778.25 178.3 778.5 176.86 778.75 188.22 779 185.65 779.25 180.67 779.5 181.79 779.75 188.77 780 187.53 780.25 180.83 780.5 178.97 780.75 190.15 781 187.01 781.25 177.22 781.5 179.26 781.75 187.45 782 190.84 782.25 179.79 782.5 176.58 782.75 184.13 783 187.1 783.25 178.06 783.5 179.19 783.75 185.29 784 185.45 784.25 175.74 784.5 180.49 784.75 187.47 785 187.32 785.25 174.85 785.5 176.69 785.75 188.63 786 189.48 786.25 176.52 786.5 181.47 786.75 188.55 787 187.59 787.25 176.52 787.5 175.61 787.75 185.87 788 188.4 788.25 178 788.5 177.7 788.75 188.78 789 188.48 789.25 178.76 789.5 177.56 789.75 187.66 790 188.85 790.25 174.73 790.5 180.09 790.75 187.86 791 184.32 791.25 174.99 791.5 176.17 791.75 187.76 792 185.95 792.25 179.85 792.5 175.51 792.75 186.49 793 188.95 793.25 178.24 793.5 178.69 793.75 186.69 794 184.45 794.25 178.9 794.5 175.64 794.75 188.41 795 189.33 795.25 179.4 795.5 179.3 795.75 187.24 796 185.22 796.25 176.39 796.5 181.18 796.75 189.2 797 188.67 797.25 177.19 797.5 177.24 797.75 188.49 798 187.18 798.25 175.13 798.5 176.85 798.75 189.24 799 189.77 799.25 178.06 799.5 174.92 799.75 186.92 800 186.13 800.25 179.35 800.5 178.45 800.75 189.37 801 188.57 801.25 175.09 801.5 175.43 801.75 185.7 802 188 802.25 180.88 802.5 177.61 802.75 189.11 803 186.63 803.25 178.3 803.5 177.21 803.75 187.76 804 187.09 804.25 178.56 804.5 178.14 804.75 187.13 805 189.93 805.25 176.37 805.5 173.96 805.75 185.29 806 184.31 806.25 177.92 806.5 177.32 806.75 186.99 807 187.64 807.25 177.64 807.5 177.04 807.75 190.31 808 186.4 808.25 174.33 808.5 176.43 808.75 188.1 809 186.65 809.25 177.33 809.5 174.6 809.75 189.12 810 190.12 810.25 173.95 810.5 176.67 810.75 189.16 811 186.49 811.25 175.36 811.5 180.08 811.75 187.7 812 190.9 812.25 177.34 812.5 174.49 812.75 186.98 813 188.29 813.25 178.49 813.5 174.48 813.75 185.53 814 186.2 814.25 174.32 814.5 176.38 814.75 186.88 815 188.22 815.25 173.47 815.5 177.7 815.75 190.52 816 185.97 816.25 177.71 816.5 176.5 816.75 187.7 817 185.16 817.25 175.89 817.5 178.45 817.75 188.61 818 189.34 818.25 179.17 818.5 177.43 818.75 185.33 819 185.66 819.25 175.92 819.5 178.13 819.75 189.01 820 186.34 820.25 177.9 820.5 181 820.75 188.95 821 188.66 821.25 178.76 821.5 178.15 821.75 186.47 822 189.69 822.25 179.87 822.5 175.72 822.75 187.72 823 186.79 823.25 175.61 823.5 178.34 823.75 186.18 824 189.03 824.25 179.39 824.5 176.93 824.75 189.44 825 184.97 825.25 175.72 825.5 178.86 825.75 188.67 826 186.63 826.25 177.78 826.5 178.89 826.75 185.78 827 186.36 827.25 175.99 827.5 177.06 827.75 189.53 828 184.07 828.25 178.03 828.5 175.88 828.75 185.2 829 185.86 829.25 176.16 829.5 177.92 829.75 188.33 830 187.2 830.25 178.82 830.5 177.82 830.75 187.29 831 185.83 831.25 176.97 831.5 174.33 831.75 188.83 832 187.39 832.25 180.12 832.5 177.32 832.75 187.8 833 189.66 833.25 176.11 833.5 176.89 833.75 185.64 834 187.73 834.25 178.11 834.5 176.84 834.75 186.68 835 189.17 835.25 176.17 835.5 177.71 835.75 186.69 836 191.01 836.25 178.99 836.5 174.98 836.75 186.9 837 186.4 837.25 177.91 837.5 177.08 837.75 188.24 838 186.77 838.25 176.87 838.5 178.26 838.75 187.6 839 186.76 839.25 174.74 839.5 175.62 839.75 188.64 840 188.27 840.25 176.8 840.5 176.15 840.75 185.67 841 187.33 841.25 176.57 841.5 179.41 841.75 185.77 842 187.62 842.25 178.61 842.5 178.47 842.75 186.02 843 193.56 843.25 178.91 843.5 177.49 843.75 184.86 844 186.86 844.25 175.39 844.5 173.95 844.75 192.93 845 186.7 845.25 177.61 845.5 179.76 845.75 186.99 846 187.5 846.25 180.26 846.5 175 846.75 190.26 847 186.59 847.25 176.55 847.5 177.47 847.75 188.86 848 187.56 848.25 176.84 848.5 180.75 848.75 188.21 849 183.93 849.25 179.11 849.5 176.15 849.75 188.77 850 189.29 850.25 175.4 850.5 176.36 850.75 187.9 851 186.55 851.25 179.11 851.5 178.99 851.75 184.95 852 186.12 852.25 175.2 852.5 177.39 852.75 191.54 853 187.25 853.25 177.15 853.5 179.16 853.75 186.27 854 187.06 854.25 179.25 854.5 174.62 854.75 186.99 855 186.71 855.25 177.85 855.5 175.89 855.75 187.39 856 186.79 856.25 172.99 856.5 175.6 856.75 188.15 857 185.81 857.25 176.49 857.5 177.61 857.75 187.93 858 187.62 858.25 177.77 858.5 180.83 858.75 189.01 859 186.26 859.25 176.81 859.5 176.41 859.75 185.65 860 187.3 860.25 177.17 860.5 177.78 860.75 190.35 861 187.47 861.25 174.4 861.5 179.07 861.75 188.57 862 186.4 862.25 178.28 862.5 177.31 862.75 189.33 863 185.46 863.25 177.15 863.5 174.65 863.75 190.68 864 186.55 864.25 177.79 864.5 178.98 864.75 187.08 865 185.98 865.25 176.1 865.5 178.37 865.75 188.43 866 187.58 866.25 176.33 866.5 176.99 866.75 189.42 867 188.85 867.25 180.68 867.5 176.41 867.75 187.6 868 187.26 868.25 178.29 868.5 175.56 868.75 190.14 869 186.68 869.25 177.76 869.5 175.98 869.75 189.26 870 185.53 870.25 178.41 870.5 172.85 870.75 191.04 871 190.18 871.25 176.74 871.5 175.96 871.75 186.69 872 186.43 872.25 175.02 872.5 179.47 872.75 186.69 873 186.77 873.25 177.69 873.5 176.54 873.75 185.48 874 186.77 874.25 177.47 874.5 174.58 874.75 186.88 875 182.76 875.25 177.19 875.5 178.66 875.75 188.69 876 187.86 876.25 178.97 876.5 177.93 876.75 186.89 877 187.76 877.25 178.15 877.5 177.8 877.75 186.76 878 188.58 878.25 178.11 878.5 177.27 878.75 187.88 879 185.67 879.25 179.47 879.5 175.87 879.75 187.82 880 186.14 880.25 175.24 880.5 176 880.75 185.82 881 185.52 881.25 178.68 881.5 177.55 881.75 188.6 882 187.94 882.25 176.76 882.5 176.59 882.75 189.65 883 189.19 883.25 177.58 883.5 177.13 883.75 188.96 884 184.96 884.25 177.08 884.5 179.36 884.75 188.04 885 188.77 885.25 179.74 885.5 177.32 885.75 189.29 886 187.09 886.25 176.6 886.5 178.74 886.75 187.38 887 188.89 887.25 180.34 887.5 178.09 887.75 186.71 888 188.85 888.25 179.46 888.5 172.98 888.75 185.93 889 186.98 889.25 180.17 889.5 176.64 889.75 190.14 890 186.51 890.25 179.09 890.5 178.22 890.75 190.68 891 186.84 891.25 176.23 891.5 176.16 891.75 190.19 892 188.15 892.25 174.74 892.5 177.23 892.75 185.89 893 185.74 893.25 175.5 893.5 178.94 893.75 189.48 894 188.48 894.25 175.57 894.5 177.29 894.75 190.75 895 190.78 895.25 178.6 895.5 180.49 895.75 187.57 896 188.69 896.25 177.43 896.5 177.28 896.75 188.11 897 186.29 897.25 176.08 897.5 176.15 897.75 187.68 898 187.88 898.25 178.48 898.5 178.23 898.75 186.81 899 185.99 899.25 176.95 899.5 174.73 899.75 187.49 900 187.95 900.25 178.6 900.5 177.99 900.75 187.91 901 188.86 901.25 175.83 901.5 178.1 901.75 189.9 902 186.72 902.25 177.57 902.5 175.42 902.75 186.15 903 186.5 903.25 178.27 903.5 180.88 903.75 186.92 904 187.48 904.25 178.56 904.5 180.59 904.75 185.62 905 185.99 905.25 175.61 905.5 175.42 905.75 188.62 906 188.65 906.25 176.39 906.5 174.73 906.75 186.57 907 185.73 907.25 177.23 907.5 177.15 907.75 186.91 908 188.11 908.25 176.96 908.5 179.11 908.75 188.78 909 189.62 909.25 176.1 909.5 177.12 909.75 186.89 910 187.32 910.25 175.23 910.5 179.35 910.75 188.99 911 189.13 911.25 178.38 911.5 179.09 911.75 191.93 912 187.43 912.25 179.84 912.5 177.01 912.75 186.41 913 187.97 913.25 178.69 913.5 180.48 913.75 187.73 914 183.9 914.25 179.28 914.5 177.45 914.75 186.53 915 187.66 915.25 178.32 915.5 178.34 915.75 186.95 916 186.03 916.25 176.14 916.5 179.07 916.75 188.53 917 186.8 917.25 178.03 917.5 179.15 917.75 188.52 918 187.59 918.25 177.95 918.5 176.44 918.75 188.1 919 185.54 919.25 175.87 919.5 175.39 919.75 189.09 920 187.31 920.25 180.33 920.5 179.6 920.75 188.3 921 189.76 921.25 176.72 921.5 175.55 921.75 189.5 922 189.4 922.25 177.42 922.5 179.6 922.75 190.41 923 188.65 923.25 176.96 923.5 175.57 923.75 188.31 924 187.77 924.25 176.83 924.5 178.56 924.75 189.95 925 184.19 925.25 176.9 925.5 177.41 925.75 187.55 926 186.73 926.25 177.93 926.5 170.07 926.75 185.92 927 187.73 927.25 177.91 927.5 177.14 927.75 187.24 928 186.76 928.25 175.33 928.5 179.63 928.75 188.88 929 186.94 929.25 180.04 929.5 179.2 929.75 189.26 930 187.54 930.25 178.9 930.5 175.54 930.75 188.27 931 187.31 931.25 177.97 931.5 176.06 931.75 188.81 932 190.02 932.25 176.88 932.5 175.89 932.75 190.35 933 187.84 933.25 180.44 933.5 175.21 933.75 193.42 934 186.86 934.25 177.09 934.5 173.44 934.75 184.97 935 192.09 935.25 179.88 935.5 177.03 935.75 188.85 936 186.42 936.25 178.45 936.5 179.27 936.75 188.48 937 189.93 937.25 177.48 937.5 176.9 937.75 189.85 938 184.85 938.25 178.66 938.5 177.71 938.75 187.54 939 184.08 939.25 179 939.5 177.1 939.75 187.62 940 185.52 940.25 177.13 940.5 175.24 940.75 186.33 941 188.19 941.25 177.88 941.5 176.77 941.75 184.87 942 189.86 942.25 177.73 942.5 178.1 942.75 186.87 943 189.18 943.25 178.11 943.5 175.41 943.75 189.39 944 187.54 944.25 180.28 944.5 176.1 944.75 185.02 945 188.87 945.25 175.16 945.5 176.87 945.75 186.88 946 189.14 946.25 177.26 946.5 177.06 946.75 184.97 947 192.59 947.25 177.04 947.5 172.08 947.75 188.64 948 188.35 948.25 179.74 948.5 175.86 948.75 185.61 949 186.1 949.25 174.82 949.5 176.45 949.75 186.21 950 187.03 950.25 178.48 950.5 177.27 950.75 187.94 951 190.85 951.25 178.51 951.5 179.42 951.75 187.72 952 188.57 952.25 175.62 952.5 177.46 952.75 188.36 953 188.74 953.25 175.98 953.5 176.29 953.75 188.54 954 190.06 954.25 178.14 954.5 178.85 954.75 188.78 955 189.03 955.25 179.98 955.5 177.61 955.75 190.32 956 185.8 956.25 175.18 956.5 176.4 956.75 192.75 957 191.45 957.25 171.94 957.5 175.68 957.75 186.63 958 187.49 958.25 179.4 958.5 176.4 958.75 188.63 959 190.39 959.25 174.85 959.5 177.02 959.75 187.13 960 189.7 960.25 175 960.5 180.48 960.75 189.77 961 187.81 961.25 178.39 961.5 173.99 961.75 186.5 962 189.85 962.25 176.57 962.5 176.98 962.75 188.82 963 187.83 963.25 178.82 963.5 178.24 963.75 190.6 964 186.21 964.25 174.73 964.5 176.64 964.75 188.03 965 185.7 965.25 175.81 965.5 175.59 965.75 185.15 966 187.03 966.25 179.84 966.5 173.76 966.75 190.68 967 187.69 967.25 173.93 967.5 174.74 967.75 190.41 968 187.56 968.25 175.05 968.5 174.52 968.75 189.02 969 190.2 969.25 177.91 969.5 174.29 969.75 189.35 970 187.02 970.25 176.1 970.5 174.83 970.75 194.28 971 189.6 971.25 172.7 971.5 176.28 971.75 188.14 972 189.03 972.25 177.46 972.5 175.3 972.75 188.35 973 191 973.25 176.79 973.5 178.49 973.75 195.28 974 188.69 974.25 176.62 974.5 174.3 974.75 188.2 975 187.44 975.25 168 975.5 173.52 975.75 188.5 976 189.04 976.25 177 976.5 176.9 976.75 189.31 977 192.47 977.25 175.78 977.5 174.75 977.75 190.14 978 190.08 978.25 172.48 978.5 175.07 978.75 190.58 979 187.96 979.25 173.9 979.5 178.82 979.75 192.99 980 188 980.25 170.52 980.5 175.42 980.75 202 981 195.2 981.25 180.3 981.5 174.09 981.75 189.48 982 190.95 982.25 173.27 982.5 179.05 982.75 187.39 983 192.95 983.25 171.65 983.5 175.01 983.75 190.24 984 190.38 984.25 171.98 984.5 172.55 984.75 191.22 985 194.8 985.25 160 985.5 173.27 985.75 193.9 986 189.64 986.25 174.65 986.5 170.86 986.75 192.01 987 190.18 987.25 174.19 987.5 170.16 987.75 195.05 988 200 988.25 178.06 988.5 165.52 988.75 193.97 989 190.53 989.25 173.38 989.5 174.04 989.75 190.03 990 189.3 990.25 172.41 990.5 174.3 990.75 189.62 991 193.11 991.25 176.53 991.5 174.12 991.75 203.4 992 191.88 992.25 171.13 992.5 170.77 992.75 191.87 993 197 993.25 155 993.5 168.16 993.75 194.06 994 195.7 994.25 174.31 994.5 174.91 994.75 199.41 995 212 995.25 176.07 995.5 169.62 995.75 192.51 996 192.2 996.25 162.08 996.5 169.38 996.75 205.25 997 197.79 997.25 173.08 997.5 172.24 997.75 200.47 998 194.17 998.25 173.49 998.5 168.26 998.75 193.99 999 200.09 999.25 164 999.5 151.6 999.75 194.83 1000 195.69 1000.25 176.92 1000.5 159.93 1000.75 203.08 1001 194.05 1001.25 171.63 1001.5 165.59 1001.75 200.99 1002 194.52 1002.25 163.81 1002.5 180 1002.8 33 1003 195 1003.2 240 1003.4 205 1003.6 245 1003.8 210 1004 286 1004.2 230 1004.4 331 1004.6 220 1004.8 280 1005 190 1005.3 178 1005.5 169.59 1005.75 191.27 1006 191.05 1006.25 170.67 1006.5 165 1006.75 197.77 1007 193.21 1007.25 171.39 1007.5 162.69 1007.75 189.53 1008 206 1008.25 164.22 1008.5 169.94 1008.75 195.04 1009 191.94 1009.25 162.07 1009.5 170.93 1009.75 188.75 1010 194.5 1010.25 171.48 1010.5 179.51 1010.75 196.18 1011 211 1011.25 167.55 1011.5 166.55 1011.75 187.98 1012 191.77 1012.25 151 1012.5 173.6 1012.75 190.66 1013 199.41 1013.25 176.65 1013.5 173.03 1013.75 193.01 1014 195.07 1014.25 173.6 1014.5 172.02 1014.75 205 1015 193.24 1015.25 175.24 1015.5 173.6 1015.75 192.56 1016 192.65 1016.25 171.45 1016.5 174.28 1016.75 190.54 1017 191.86 1017.25 175.61 1017.5 176.69 1017.75 192.96 1018 191.09 1018.25 176.5 1018.5 175.42 1018.75 192.43 1019 193.73 1019.25 174.47 1019.5 175.63 1019.75 197.13 1020 188.36 1020.25 162 1020.5 175.28 1020.75 196.04 1021 190.77 1021.25 173.4 1021.5 176.41 1021.75 193.13 1022 188.69 1022.25 170.87 1022.5 174.33 1022.75 192.1 1023 190.34 1023.25 176.76 1023.5 176.68 1023.75 193.1 1024 188.88 1024.25 178.26 1024.5 174.59 1024.75 193.52 1025 200 1025.25 175.85 1025.5 176.68 1025.75 188.11 1026 187.88 1026.25 177.13 1026.5 170.29 1026.75 186.67 1027 190.35 1027.25 179.62 1027.5 174.99 1027.75 186.5 1028 190.84 1028.25 173.37 1028.5 176.2 1028.75 190.19 1029 189.18 1029.25 176.16 1029.5 178.61 1029.75 187.82 1030 185.96 1030.25 170 1030.5 178.16 1030.75 189.2 1031 188.5 1031.25 179.74 1031.5 175.92 1031.75 184.65 1032 191.91 1032.25 175.13 1032.5 176.43 1032.75 189.18 1033 189.25 1033.25 174.83 1033.5 174.3 1033.75 185.76 1034 186.94 1034.25 175.8 1034.5 177.41 1034.75 187.91 1035 187.72 1035.25 175.84 1035.5 177.14 1035.75 189.17 1036 188.82 1036.25 174.38 1036.5 175.83 1036.75 188.33 1037 188.16 1037.25 180.15 1037.5 178.53 1037.75 187.21 1038 191.69 1038.25 172.45 1038.5 179.03 1038.75 191.79 1039 190.28 1039.25 177.78 1039.5 173.2 1039.75 188.69 1040 189.22 1040.25 175.74 1040.5 177.46 1040.75 191.48 1041 185.63 1041.25 175.86 1041.5 177.31 1041.75 190.53 1042 193.5 1042.25 178.08 1042.5 175.44 1042.75 186.13 1043 186.42 1043.25 178.89 1043.5 176.63 1043.75 189.88 1044 186.16 1044.25 177.92 1044.5 176.48 1044.75 187.32 1045 187.17 1045.25 177.63 1045.5 175.82 1045.75 188.57 1046 189.6 1046.25 176.66 1046.5 174.63 1046.75 189.66 1047 189.15 1047.25 175.61 1047.5 175.91 1047.75 187.89 1048 190.25 1048.25 176.81 1048.5 174.65 1048.75 185.05 1049 185.84 1049.25 180.99 1049.5 173.55 1049.75 185.28 1050 184.47 1050.25 173.69 1050.5 179.33 1050.75 186.31 1051 186.59 1051.25 175.7 1051.5 171.57 1051.75 190.33 1052 187.17 1052.25 177.03 1052.5 175.58 1052.75 187.79 1053 188.19 1053.25 178.37 1053.5 177.88 1053.75 190.88 1054 187.54 1054.25 175.44 1054.5 177.81 1054.75 189.2 1055 188.18 1055.25 178.63 1055.5 175.2 1055.75 186.89 1056 189.53 1056.25 179.47 1056.5 176.01 1056.75 188 1057 190.57 1057.25 176.99 1057.5 175.94 1057.75 187.04 1058 189.87 1058.25 179.05 1058.5 176.84 1058.75 186.52 1059 188.9 1059.25 176.3 1059.5 176.85 1059.75 185.88 1060 187.02 1060.25 174.15 1060.5 177.84 1060.75 190.25 1061 187.86 1061.25 178.49 1061.5 175.8 1061.75 188.08 1062 187.76 1062.25 176.27 1062.5 179.25 1062.75 188.03 1063 188.45 1063.25 179.24 1063.5 177.75 1063.75 184.94 1064 190.06 1064.25 178.94 1064.5 180.58 1064.75 190.13 1065 187.98 1065.25 175.8 1065.5 179.64 1065.75 187.52 1066 189.96 1066.25 177.55 1066.5 172.82 1066.75 185.6 1067 188.99 1067.25 175.9 1067.5 178.95 1067.75 191.56 1068 186.34 1068.25 176.39 1068.5 174.51 1068.75 187.33 1069 188.95 1069.25 178.75 1069.5 176.51 1069.75 187.16 1070 187.62 1070.25 179.98 1070.5 177.57 1070.75 191.38 1071 189.08 1071.25 179.14 1071.5 178.54 1071.75 187.92 1072 186.58 1072.25 172.56 1072.5 178.02 1072.75 190.38 1073 187.69 1073.25 171.74 1073.5 179.41 1073.75 186.34 1074 187.02 1074.25 174.95 1074.5 180.61 1074.75 192.83 1075 185.66 1075.25 174.24 1075.5 178.38 1075.75 188.02 1076 189.04 1076.25 178.18 1076.5 178.86 1076.75 188.28 1077 191.1 1077.25 178.03 1077.5 177.92 1077.75 185.9 1078 184.43 1078.25 173.86 1078.5 178.44 1078.75 187.69 1079 185.92 1079.25 176.34 1079.5 178.93 1079.75 193.12 1080 187.55 1080.25 175.44 1080.5 178.24 1080.75 190.68 1081 186.62 1081.25 177.61 1081.5 177.26 1081.75 184.64 1082 190.59 1082.25 178.61 1082.5 177.52 1082.75 187.82 1083 187.67 1083.25 179.87 1083.5 179.58 1083.75 186.93 1084 188.97 1084.25 173.58 1084.5 175.81 1084.75 186.8 1085 186.64 1085.25 177.52 1085.5 177.91 1085.75 188.53 1086 188.09 1086.25 178.67 1086.5 179.6 1086.75 189.16 1087 186.92 1087.25 175.13 1087.5 178.38 1087.75 188.29 1088 186.25 1088.25 179.63 1088.5 176.51 1088.75 187.37 1089 185.91 1089.25 178.11 1089.5 176.69 1089.75 186.52 1090 185.91 1090.25 177.21 1090.5 176.77 1090.75 189.83 1091 188.35 1091.25 177.63 1091.5 177.86 1091.75 184.81 1092 184.51 1092.25 173.62 1092.5 177.39 1092.75 189.41 1093 184.89 1093.25 176.55 1093.5 178.41 1093.75 186.5 1094 186.62 1094.25 178.2 1094.5 177.24 1094.75 192.84 1095 188.25 1095.25 174.52 1095.5 176.7 1095.75 188.7 1096 187.61 1096.25 176.79 1096.5 180.59 1096.75 187.22 1097 185.83 1097.25 177.42 1097.5 178.59 1097.75 188.33 1098 185.52 1098.25 176.8 1098.5 177.05 1098.75 190.27 1099 189.48 1099.25 178.09 1099.5 176.8 1099.75 187.18 1100 185.91 1100.25 177.52 1100.5 175.01 1100.75 187.9 1101 186.54 1101.25 177.09 1101.5 176.07 1101.75 186.97 1102 185.15 1102.25 175.97 1102.5 176.78 1102.75 187.61 1103 186.48 1103.25 174.96 1103.5 178.21 1103.75 187.79 1104 186.88 1104.25 175.88 1104.5 176.55 1104.75 186.09 1105 184.93 1105.25 176.55 1105.5 178.44 1105.75 185.11 1106 187.96 1106.25 178.07 1106.5 177.23 1106.75 188.96 1107 188.74 1107.25 175.8 1107.5 176.78 1107.75 187.42 1108 187.83 1108.25 177.78 1108.5 175.81 1108.75 186.64 1109 184.94 1109.25 178.43 1109.5 175.17 1109.75 186.7 1110 187.5 1110.25 176.97 1110.5 175.41 1110.75 188.98 1111 186.04 1111.25 179.51 1111.5 175.72 1111.75 189.73 1112 191.45 1112.25 175.51 1112.5 178.26 1112.75 187.73 1113 190.33 1113.25 176.61 1113.5 171.52 1113.75 188.39 1114 188.96 1114.25 178.75 1114.5 176.4 1114.75 186.34 1115 190.98 1115.25 176.66 1115.5 177.06 1115.75 189.16 1116 190.05 1116.25 178.1 1116.5 177.76 1116.75 189.63 1117 188.36 1117.25 177.36 1117.5 175.73 1117.75 187.87 1118 187.02 1118.25 178.61 1118.5 177.07 1118.75 186.3 1119 189.23 1119.25 175.17 1119.5 176.13 1119.75 185.93 1120 188.46 1120.25 179.92 1120.5 176.9 1120.75 186.51 1121 187.81 1121.25 177.56 1121.5 178.41 1121.75 190.97 1122 188.35 1122.25 176.12 1122.5 180.24 1122.75 187.51 1123 187.36 1123.25 179.22 1123.5 174.54 1123.75 186.75 1124 187.07 1124.25 175.83 1124.5 178.55 1124.75 188.66 1125 188.73 1125.25 179.14 1125.5 176.95 1125.75 188.35 1126 186.92 1126.25 178.26 1126.5 177.27 1126.75 187.09 1127 188.41 1127.25 177.34 1127.5 177.01 1127.75 186.34 1128 186.65 1128.25 177.13 1128.5 176.37 1128.75 185.36 1129 187 1129.25 177.57 1129.5 178.31 1129.75 188.39 1130 189.17 1130.25 175.33 1130.5 176.87 1130.75 190.9 1131 186.98 1131.25 175.57 1131.5 176.88 1131.75 187 1132 188.24 1132.25 171.55 1132.5 177.93 1132.75 188.55 1133 187.56 1133.25 178.51 1133.5 178.9 1133.75 188.24 1134 189.45 1134.25 177.7 1134.5 170.73 1134.75 185.73 1135 187.31 1135.25 174.76 1135.5 176.87 1135.75 186.71 1136 188.76 1136.25 174.53 1136.5 177.52 1136.75 184.63 1137 191.09 1137.25 177.15 1137.5 176.77 1137.75 188.09 1138 188.34 1138.25 176.11 1138.5 178.62 1138.75 186.85 1139 188.77 1139.25 177.21 1139.5 177.97 1139.75 188.41 1140 187.9 1140.25 175.88 1140.5 174.71 1140.75 188.17 1141 188.7 1141.25 178.66 1141.5 174.6 1141.75 187.77 1142 190.31 1142.25 175.8 1142.5 177.72 1142.75 185.26 1143 185.6 1143.25 178.13 1143.5 179.75 1143.75 187.51 1144 185.35 1144.25 177.12 1144.5 176.84 1144.75 187.44 1145 185.53 1145.25 177.92 1145.5 179.34 1145.75 188.42 1146 186.03 1146.25 176.18 1146.5 177.35 1146.75 187.38 1147 192.38 1147.25 178.73 1147.5 178.03 1147.75 187.68 1148 185.82 1148.25 178.52 1148.5 177.43 1148.75 188.35 1149 186.4 1149.25 176.69 1149.5 176.92 1149.75 186.83 1150 185.54 1150.25 176.12 1150.5 178.82 1150.75 187.59 1151 189.05 1151.25 178.97 1151.5 174.85 1151.75 188.83 1152 185.93 1152.25 177.87 1152.5 176.4 1152.75 186.89 1153 186.42 1153.25 176.85 1153.5 178.78 1153.75 188.63 1154 189.36 1154.25 176.61 1154.5 179.57 1154.75 187.71 1155 189.88 1155.25 177.96 1155.5 178.95 1155.75 188.23 1156 186.97 1156.25 176.17 1156.5 177.85 1156.75 188.55 1157 188.06 1157.25 179.86 1157.5 177.33 1157.75 188.89" fill="none" stroke="#1f77b4" stroke-width="1.9" stroke-linejoin="round"/>
<path d="M760.5 182.5 761 182.5 761.5 182.5 762 182.5 762.5 182.5 763 182.5 763.5 182.5 764 182.5 764.5 182.5 765 182.5 765.5 182.5 766 182.5 766.5 182.5 767 182.5 767.5 182.5 768 182.5 768.5 182.5 769 182.5 769.5 182.5 770 182.5 770.5 182.5 771 182.5 771.5 182.5 772 182.5 772.5 182.5 773 182.5 773.5 182.5 774 182.5 774.5 182.5 775 182.5 775.5 182.5 776 182.5 776.5 182.5 777 182.5 777.5 182.5 778 182.5 778.5 182.5 779 182.5 779.5 182.5 780 182.5 780.5 182.5 781 182.5 781.5 182.5 782 182.5 782.5 182.5 783 182.5 783.5 182.5 784 182.5 784.5 182.5 785 182.5 785.5 182.5 786 182.5 786.5 182.5 787 182.5 787.5 182.5 788 182.5 788.5 182.5 789 182.5 789.5 182.5 790 182.5 790.5 182.5 791 182.5 791.5 182.5 792 182.5 792.5 182.5 793 182.5 793.5 182.5 794 182.5 794.5 182.5 795 182.5 795.5 182.5 796 182.5 796.5 182.5 797 182.5 797.5 182.5 798 182.5 798.5 182.5 799 182.5 799.5 182.5 800 182.5 800.5 182.5 801 182.5 801.5 182.5 802 182.5 802.5 182.5 803 182.5 803.5 182.5 804 182.5 804.5 182.5 805 182.5 805.5 182.5 806 182.5 806.5 182.5 807 182.5 807.5 182.5 808 182.5 808.5 182.5 809 182.5 809.5 182.5 810 182.5 810.5 182.5 811 182.5 811.5 182.5 812 182.5 812.5 182.5 813 182.5 813.5 182.5 814 182.5 814.5 182.5 815 182.5 815.5 182.5 816 182.5 816.5 182.5 817 182.5 817.5 182.5 818 182.5 818.5 182.5 819 182.5 819.5 182.5 820 182.5 820.5 182.5 821 182.5 821.5 182.5 822 182.5 822.5 182.5 823 182.5 823.5 182.5 824 182.5 824.5 182.5 825 182.5 825.5 182.5 826 182.5 826.5 182.5 827 182.5 827.5 182.5 828 182.5 828.5 182.5 829 182.5 829.5 182.5 830 182.5 830.5 182.5 831 182.5 831.5 182.5 832 182.5 832.5 182.5 833 182.5 833.5 182.5 834 182.5 834.5 182.5 835 182.5 835.5 182.5 836 182.5 836.5 182.5 837 182.5 837.5 182.5 838 182.5 838.5 182.5 839 182.5 839.5 182.5 840 182.5 840.5 182.5 841 182.5 841.5 182.5 842 182.5 842.5 182.5 843 182.5 843.5 182.5 844 182.5 844.5 182.5 845 182.5 845.5 182.5 846 182.5 846.5 182.5 847 182.5 847.5 182.5 848 182.5 848.5 182.5 849 182.5 849.5 182.5 850 182.5 850.5 182.5 851 182.5 851.5 182.5 852 182.5 852.5 182.5 853 182.5 853.5 182.5 854 182.5 854.5 182.5 855 182.5 855.5 182.5 856 182.5 856.5 182.5 857 182.5 857.5 182.5 858 182.5 858.5 182.5 859 182.5 859.5 182.5 860 182.5 860.5 182.5 861 182.5 861.5 182.5 862 182.5 862.5 182.5 863 182.5 863.5 182.5 864 182.5 864.5 182.5 865 182.5 865.5 182.5 866 182.5 866.5 182.5 867 182.5 867.5 182.5 868 182.5 868.5 182.5 869 182.5 869.5 182.5 870 182.5 870.5 182.5 871 182.5 871.5 182.5 872 182.5 872.5 182.5 873 182.5 873.5 182.5 874 182.5 874.5 182.5 875 182.5 875.5 182.5 876 182.5 876.5 182.5 877 182.5 877.5 182.5 878 182.5 878.5 182.5 879 182.5 879.5 182.5 880 182.5 880.5 182.5 881 182.5 881.5 182.5 882 182.5 882.5 182.5 883 182.5 883.5 182.51 884 182.5 884.5 182.49 885 182.51 885.5 182.5 886 182.49 886.5 182.51 887 182.49 887.5 182.49 888 182.52 888.5 182.49 889 182.48 889.5 182.53 890 182.49 890.5 182.48 891 182.55 891.5 182.48 892 182.47 892.5 182.57 893 182.47 893.5 182.45 894 182.6 894.5 182.45 895 182.43 895.5 182.64 896 182.43 896.5 182.4 897 182.71 897.5 182.39 898 182.36 898.5 182.8 899 182.33 899.5 182.3 900 182.94 900.5 182.25 901 182.22 901.5 183.14 902 182.13 902.5 182.1 903 183.44 903.5 181.94 904 181.94 904.5 183.86 905 181.66 905.5 181.71 906 184.48 906.5 181.25 907 181.39 907.5 185.38 908 180.64 908.5 180.94 909 182.5 909.5 182.5 910 182.5 910.5 182.5 911 182.5 911.5 182.5 912 182.5 912.5 182.5 913 182.5 913.5 182.5 914 182.5 914.5 182.5 915 182.5 915.5 182.5 916 182.5 916.5 182.5 917 182.5 917.5 182.5 918 182.5 918.5 182.5 919 182.5 919.5 182.5 920 182.5 920.5 182.5 921 182.5 921.5 182.5 922 182.5 922.5 182.5 923 182.5 923.5 182.5 924 182.5 924.5 182.5 925 182.5 925.5 182.5 926 182.5 926.5 182.5 927 182.5 927.5 182.5 928 182.5 928.5 182.5 929 182.5 929.5 182.5 930 182.5 930.5 182.5 931 182.5 931.5 182.5 932 182.5 932.5 182.5 933 182.5 933.5 182.5 934 182.5 934.5 182.5 935 182.5 935.5 182.5 936 182.5 936.5 182.5 937 182.5 937.5 182.5 938 182.5 938.5 182.5 939 182.5 939.5 182.5 940 182.5 940.5 182.5 941 182.5 941.5 182.5 942 182.5 942.5 182.5 943 182.5 943.5 182.5 944 182.5 944.5 182.5 945 182.5 945.5 182.5 946 182.5 946.5 182.5 947 182.5 947.5 182.5 948 182.5 948.5 182.5 949 182.5 949.5 182.5 950 182.5 950.5 182.5 951 182.5 951.5 182.5 952 182.5 952.5 182.5 953 182.5 953.5 182.5 954 182.5 954.5 182.5 955 182.5 955.5 182.5 956 182.5 956.5 182.5 957 182.5 957.5 182.5 958 182.5 958.5 182.5 959 182.5 959.5 182.5 960 182.5 960.5 182.5 961 182.5 961.5 182.5 962 182.5 962.5 182.5 963 182.5 963.5 182.5 964 182.5 964.5 182.5 965 182.5 965.5 182.5 966 182.5 966.5 182.5 967 182.5 967.5 182.5 968 182.5 968.5 182.5 969 182.5 969.5 182.5 970 182.5 970.5 182.5 971 182.5 971.5 182.5 972 182.5 972.5 182.5 973 182.5 973.5 182.5 974 182.5 974.5 182.5 975 182.5 975.5 182.5 976 182.5 976.5 182.5 977 182.5 977.5 182.5 978 182.5 978.5 182.5 979 182.5 979.5 182.5 980 182.5 980.5 182.5 981 182.5 981.5 182.5 982 182.5 982.5 182.5 983 182.5 983.5 182.5 984 182.5 984.5 182.5 985 182.5 985.5 182.5 986 182.5 986.5 182.5 987 182.5 987.5 182.5 988 182.5 988.5 182.5 989 182.5 989.5 182.5 990 182.5 990.5 182.5 991 182.5 991.5 182.5 992 182.5 992.5 182.5 993 182.5 993.5 182.5 994 182.5 994.5 182.5 995 182.5 995.5 182.5 996 182.5 996.5 182.5 997 182.5 997.5 182.5 998 182.5 998.5 182.5 999 182.5 999.5 182.5 1000 182.5 1000.5 182.5 1001 182.5 1001.5 182.5 1002 182.5 1002.5 182.5 1003 182.5 1003.5 182.5 1004 182.5 1004.5 182.5 1005 182.5 1005.5 182.5 1006 182.5 1006.5 182.5 1007 182.5 1007.5 182.5 1008 182.5 1008.5 182.5 1009 182.5 1009.5 182.5 1010 182.5 1010.5 182.5 1011 182.5 1011.5 182.5 1012 182.5 1012.5 182.5 1013 182.5 1013.5 182.5 1014 182.5 1014.5 182.5 1015 182.5 1015.5 182.5 1016 182.5 1016.5 182.5 1017 182.5 1017.5 182.5 1018 182.5 1018.5 182.5 1019 182.5 1019.5 182.5 1020 182.5 1020.5 182.5 1021 182.5 1021.5 182.5 1022 182.5 1022.5 182.5 1023 182.5 1023.5 182.5 1024 182.5 1024.5 182.5 1025 182.5 1025.5 182.5 1026 182.5 1026.5 182.5 1027 182.5 1027.5 182.5 1028 182.5 1028.5 182.5 1029 182.5 1029.5 182.5 1030 182.5 1030.5 182.5 1031 182.5 1031.5 182.5 1032 182.5 1032.5 182.5 1033 182.5 1033.5 182.5 1034 182.5 1034.5 182.5 1035 182.5 1035.5 182.5 1036 182.5 1036.5 182.5 1037 182.5 1037.5 182.5 1038 182.5 1038.5 182.5 1039 182.5 1039.5 182.5 1040 182.5 1040.5 182.5 1041 182.5 1041.5 182.5 1042 182.5 1042.5 182.5 1043 182.5 1043.5 182.5 1044 182.5 1044.5 182.5 1045 182.5 1045.5 182.5 1046 182.5 1046.5 182.5 1047 182.5 1047.5 182.5 1048 182.5 1048.5 182.5 1049 182.5 1049.5 182.5 1050 182.5 1050.5 182.5 1051 182.5 1051.5 182.5 1052 182.5 1052.5 182.5 1053 182.5 1053.5 182.5 1054 182.5 1054.5 182.5 1055 182.5 1055.5 182.5 1056 182.5 1056.5 182.5 1057 182.5 1057.5 182.5 1058 182.5 1058.5 182.5 1059 182.5 1059.5 182.5 1060 182.5 1060.5 182.5 1061 182.5 1061.5 182.5 1062 182.5 1062.5 182.5 1063 182.5 1063.5 182.5 1064 182.5 1064.5 182.5 1065 182.5 1065.5 182.5 1066 182.5 1066.5 182.5 1067 182.5 1067.5 182.5 1068 182.5 1068.5 182.5 1069 182.5 1069.5 182.5 1070 182.5 1070.5 182.5 1071 182.5 1071.5 182.5 1072 182.5 1072.5 182.5 1073 182.5 1073.5 182.5 1074 182.5 1074.5 182.5 1075 182.5 1075.5 182.5 1076 182.5 1076.5 182.5 1077 182.5 1077.5 182.5 1078 182.5 1078.5 182.5 1079 182.5 1079.5 182.5 1080 182.5 1080.5 182.5 1081 182.5 1081.5 182.5 1082 182.5 1082.5 182.5 1083 182.5 1083.5 182.5 1084 182.5 1084.5 182.5 1085 182.5 1085.5 182.5 1086 182.5 1086.5 182.5 1087 182.5 1087.5 182.5 1088 182.5 1088.5 182.5 1089 182.5 1089.5 182.5 1090 182.5 1090.5 182.5 1091 182.5 1091.5 182.5 1092 182.5 1092.5 182.5 1093 182.5 1093.5 182.5 1094 182.5 1094.5 182.5 1095 182.5 1095.5 182.5 1096 182.5 1096.5 182.5 1097 182.5 1097.5 182.5 1098 182.5 1098.5 182.5 1099 182.5 1099.5 182.5 1100 182.5 1100.5 182.5 1101 182.5 1101.5 182.5 1102 182.5 1102.5 182.5 1103 182.5 1103.5 182.5 1104 182.5 1104.5 182.5 1105 182.5 1105.5 182.5 1106 182.5 1106.5 182.5 1107 182.5 1107.5 182.5 1108 182.5 1108.5 182.5 1109 182.5 1109.5 182.5 1110 182.5 1110.5 182.5 1111 182.5 1111.5 182.5 1112 182.5 1112.5 182.5 1113 182.5 1113.5 182.5 1114 182.5 1114.5 182.5 1115 182.5 1115.5 182.5 1116 182.5 1116.5 182.5 1117 182.5 1117.5 182.5 1118 182.5 1118.5 182.5 1119 182.5 1119.5 182.5 1120 182.5 1120.5 182.5 1121 182.5 1121.5 182.5 1122 182.5 1122.5 182.5 1123 182.5 1123.5 182.5 1124 182.5 1124.5 182.5 1125 182.5 1125.5 182.5 1126 182.5 1126.5 182.5 1127 182.5 1127.5 182.5 1128 182.5 1128.5 182.5 1129 182.5 1129.5 182.5 1130 182.5 1130.5 182.5 1131 182.5 1131.5 182.5 1132 182.5 1132.5 182.5 1133 182.5 1133.5 182.5 1134 182.5 1134.5 182.5 1135 182.5 1135.5 182.5 1136 182.5 1136.5 182.5 1137 182.5 1137.5 182.5 1138 182.5 1138.5 182.5 1139 182.5 1139.5 182.5 1140 182.5 1140.5 182.5 1141 182.5 1141.5 182.5 1142 182.5 1142.5 182.5 1143 182.5 1143.5 182.5 1144 182.5 1144.5 182.5 1145 182.5 1145.5 182.5 1146 182.5 1146.5 182.5 1147 182.5 1147.5 182.5 1148 182.5 1148.5 182.5 1149 182.5 1149.5 182.5 1150 182.5 1150.5 182.5 1151 182.5 1151.5 182.5 1152 182.5 1152.5 182.5 1153 182.5 1153.5 182.5 1154 182.5 1154.5 182.5 1155 182.5 1155.5 182.5 1156 182.5 1156.5 182.5 1157 182.5 1157.5 182.5" fill="none" stroke="#ff7f0e" stroke-width="2.2" stroke-linejoin="round"/>
<rect x="740.9" y="19" width="437" height="327.5" fill="none" stroke="#000" stroke-width="1.1"/>
<path d="M760.5 346.5v4.86M810.15 346.5v4.86M859.8 346.5v4.86M909.45 346.5v4.86M959.1 346.5v4.86M1008.75 346.5v4.86M1058.4 346.5v4.86M1108.05 346.5v4.86M1157.7 346.5v4.86M740.9 331.12h-4.86M740.9 281.58h-4.86M740.9 232.04h-4.86M740.9 182.5h-4.86M740.9 132.96h-4.86M740.9 83.42h-4.86M740.9 33.88h-4.86" stroke="#000" stroke-width="1.1"/>
<rect x="1031.1" y="26.4" width="139.1" height="49.5" rx="3" fill="#fff" fill-opacity="0.8" stroke="#cccccc" stroke-width="1.1"/>
<path d="M1036.5 39.3H1069" stroke="#1f77b4" stroke-width="2.1"/>
<path d="M1036.5 61.7H1069" stroke="#ff7f0e" stroke-width="2.1"/>
<rect x="898.5" y="698.5" width="223.8" height="54.5" rx="3" fill="#fff" fill-opacity="0.8" stroke="#cccccc" stroke-width="1.1"/>
<rect x="904.6" y="705.9" width="35.2" height="13" fill="#87ceeb"/>
<rect x="904.6" y="730.3" width="35.2" height="13" fill="#ffa500"/>
<text x="952.6" y="717.9" font-size="17" textLength="120.5" lengthAdjust="spacingAndGlyphs">SLIC likelihood</text>
<text x="952.6" y="742.5" font-size="17" textLength="160.6" lengthAdjust="spacingAndGlyphs">Gaussian likelihood</text>
<text transform="translate(64.96 1137.68) rotate(-45)" font-size="14.17" textLength="17.5" lengthAdjust="spacingAndGlyphs">20</text>
<text transform="translate(96.96 1137.68) rotate(-45)" font-size="14.17" textLength="17.5" lengthAdjust="spacingAndGlyphs">22</text>
<text transform="translate(129.16 1137.68) rotate(-45)" font-size="14.17" textLength="17.5" lengthAdjust="spacingAndGlyphs">24</text>
<text transform="translate(161.46 1137.68) rotate(-45)" font-size="14.17" textLength="17.62" lengthAdjust="spacingAndGlyphs">26</text>
<text transform="translate(193.66 1137.68) rotate(-45)" font-size="14.17" textLength="17.62" lengthAdjust="spacingAndGlyphs">28</text>
<text transform="translate(215.95 1153.3) rotate(-45)" font-size="14.17" textLength="39.5" lengthAdjust="spacingAndGlyphs">0.150</text>
<text transform="translate(252.35 1153.3) rotate(-45)" font-size="14.17" textLength="39.5" lengthAdjust="spacingAndGlyphs">0.175</text>
<text transform="translate(288.35 1153.3) rotate(-45)" font-size="14.17" textLength="39.38" lengthAdjust="spacingAndGlyphs">0.200</text>
<text transform="translate(324.45 1153.3) rotate(-45)" font-size="14.17" textLength="39.38" lengthAdjust="spacingAndGlyphs">0.225</text>
<text transform="translate(359.95 1153.3) rotate(-45)" font-size="14.17" textLength="39.38" lengthAdjust="spacingAndGlyphs">0.250</text>
<text transform="translate(374.16 1155.28) rotate(-45)" font-size="14.17" textLength="42.38" lengthAdjust="spacingAndGlyphs">−1.00</text>
<text transform="translate(409.16 1155.28) rotate(-45)" font-size="14.17" textLength="42.25" lengthAdjust="spacingAndGlyphs">−0.75</text>
<text transform="translate(443.56 1155.28) rotate(-45)" font-size="14.17" textLength="42.25" lengthAdjust="spacingAndGlyphs">−0.50</text>
<text transform="translate(478.06 1155.28) rotate(-45)" font-size="14.17" textLength="42.25" lengthAdjust="spacingAndGlyphs">−0.25</text>
<text transform="translate(516.88 1147.05) rotate(-45)" font-size="14.17" textLength="30.62" lengthAdjust="spacingAndGlyphs">0.00</text>
<text transform="translate(536.99 1149.03) rotate(-45)" font-size="14.17" textLength="33.62" lengthAdjust="spacingAndGlyphs">−1.0</text>
<text transform="translate(572.79 1149.03) rotate(-45)" font-size="14.17" textLength="33.5" lengthAdjust="spacingAndGlyphs">−0.5</text>
<text transform="translate(613 1140.8) rotate(-45)" font-size="14.17" textLength="21.88" lengthAdjust="spacingAndGlyphs">0.0</text>
<text transform="translate(648.5 1140.8) rotate(-45)" font-size="14.17" textLength="21.88" lengthAdjust="spacingAndGlyphs">0.5</text>
<text transform="translate(684.3 1140.8) rotate(-45)" font-size="14.17" textLength="22" lengthAdjust="spacingAndGlyphs">1.0</text>
<text transform="translate(727.54 1143.93) rotate(-45)" font-size="14.17" textLength="26.25" lengthAdjust="spacingAndGlyphs">450</text>
<text transform="translate(765.54 1143.93) rotate(-45)" font-size="14.17" textLength="26.38" lengthAdjust="spacingAndGlyphs">600</text>
<text transform="translate(803.84 1143.93) rotate(-45)" font-size="14.17" textLength="26.25" lengthAdjust="spacingAndGlyphs">750</text>
<text transform="translate(842.14 1143.93) rotate(-45)" font-size="14.17" textLength="26.38" lengthAdjust="spacingAndGlyphs">900</text>
<text transform="translate(868.58 1147.05) rotate(-45)" font-size="14.17" textLength="30.88" lengthAdjust="spacingAndGlyphs">1.48</text>
<text transform="translate(903.88 1147.05) rotate(-45)" font-size="14.17" textLength="30.88" lengthAdjust="spacingAndGlyphs">1.49</text>
<text transform="translate(939.68 1147.05) rotate(-45)" font-size="14.17" textLength="30.75" lengthAdjust="spacingAndGlyphs">1.50</text>
<text transform="translate(975.18 1147.05) rotate(-45)" font-size="14.17" textLength="30.88" lengthAdjust="spacingAndGlyphs">1.51</text>
<text transform="translate(1018.48 1147.05) rotate(-45)" font-size="14.17" textLength="30.62" lengthAdjust="spacingAndGlyphs">0.00</text>
<text transform="translate(1053.48 1147.05) rotate(-45)" font-size="14.17" textLength="30.62" lengthAdjust="spacingAndGlyphs">0.25</text>
<text transform="translate(1087.88 1147.05) rotate(-45)" font-size="14.17" textLength="30.62" lengthAdjust="spacingAndGlyphs">0.50</text>
<text transform="translate(1122.28 1147.05) rotate(-45)" font-size="14.17" textLength="30.62" lengthAdjust="spacingAndGlyphs">0.75</text>
<text transform="translate(1156.68 1147.05) rotate(-45)" font-size="14.17" textLength="30.75" lengthAdjust="spacingAndGlyphs">1.00</text>
<text transform="translate(24.12 337.6) rotate(-45)" font-size="14.17" textLength="39.5" lengthAdjust="spacingAndGlyphs">0.150</text>
<text transform="translate(24.12 301.2) rotate(-45)" font-size="14.17" textLength="39.5" lengthAdjust="spacingAndGlyphs">0.175</text>
<text transform="translate(24.12 265.2) rotate(-45)" font-size="14.17" textLength="39.38" lengthAdjust="spacingAndGlyphs">0.200</text>
<text transform="translate(24.12 229.1) rotate(-45)" font-size="14.17" textLength="39.38" lengthAdjust="spacingAndGlyphs">0.225</text>
<text transform="translate(24.12 193.6) rotate(-45)" font-size="14.17" textLength="39.38" lengthAdjust="spacingAndGlyphs">0.250</text>
<text transform="translate(22.14 499.08) rotate(-45)" font-size="14.17" textLength="42.38" lengthAdjust="spacingAndGlyphs">−1.00</text>
<text transform="translate(22.14 464.08) rotate(-45)" font-size="14.17" textLength="42.25" lengthAdjust="spacingAndGlyphs">−0.75</text>
<text transform="translate(22.14 429.68) rotate(-45)" font-size="14.17" textLength="42.25" lengthAdjust="spacingAndGlyphs">−0.50</text>
<text transform="translate(22.14 395.18) rotate(-45)" font-size="14.17" textLength="42.25" lengthAdjust="spacingAndGlyphs">−0.25</text>
<text transform="translate(30.37 352.25) rotate(-45)" font-size="14.17" textLength="30.62" lengthAdjust="spacingAndGlyphs">0.00</text>
<text transform="translate(28.39 651.83) rotate(-45)" font-size="14.17" textLength="33.62" lengthAdjust="spacingAndGlyphs">−1.0</text>
<text transform="translate(28.39 616.03) rotate(-45)" font-size="14.17" textLength="33.5" lengthAdjust="spacingAndGlyphs">−0.5</text>
<text transform="translate(36.62 571.7) rotate(-45)" font-size="14.17" textLength="21.88" lengthAdjust="spacingAndGlyphs">0.0</text>
<text transform="translate(36.62 536.2) rotate(-45)" font-size="14.17" textLength="21.88" lengthAdjust="spacingAndGlyphs">0.5</text>
<text transform="translate(36.62 500.4) rotate(-45)" font-size="14.17" textLength="22" lengthAdjust="spacingAndGlyphs">1.0</text>
<text transform="translate(33.49 777.43) rotate(-45)" font-size="14.17" textLength="26.25" lengthAdjust="spacingAndGlyphs">450</text>
<text transform="translate(33.49 739.43) rotate(-45)" font-size="14.17" textLength="26.38" lengthAdjust="spacingAndGlyphs">600</text>
<text transform="translate(33.49 701.13) rotate(-45)" font-size="14.17" textLength="26.25" lengthAdjust="spacingAndGlyphs">750</text>
<text transform="translate(33.49 662.83) rotate(-45)" font-size="14.17" textLength="26.38" lengthAdjust="spacingAndGlyphs">900</text>
<text transform="translate(30.37 956.65) rotate(-45)" font-size="14.17" textLength="30.88" lengthAdjust="spacingAndGlyphs">1.48</text>
<text transform="translate(30.37 921.35) rotate(-45)" font-size="14.17" textLength="30.88" lengthAdjust="spacingAndGlyphs">1.49</text>
<text transform="translate(30.37 885.55) rotate(-45)" font-size="14.17" textLength="30.75" lengthAdjust="spacingAndGlyphs">1.50</text>
<text transform="translate(30.37 850.05) rotate(-45)" font-size="14.17" textLength="30.88" lengthAdjust="spacingAndGlyphs">1.51</text>
<text transform="translate(30.37 1127.85) rotate(-45)" font-size="14.17" textLength="30.62" lengthAdjust="spacingAndGlyphs">0.00</text>
<text transform="translate(30.37 1091.85) rotate(-45)" font-size="14.17" textLength="30.62" lengthAdjust="spacingAndGlyphs">0.25</text>
<text transform="translate(30.37 1056.35) rotate(-45)" font-size="14.17" textLength="30.62" lengthAdjust="spacingAndGlyphs">0.50</text>
<text transform="translate(30.37 1020.25) rotate(-45)" font-size="14.17" textLength="30.62" lengthAdjust="spacingAndGlyphs">0.75</text>
<text transform="translate(30.37 984.25) rotate(-45)" font-size="14.17" textLength="30.75" lengthAdjust="spacingAndGlyphs">1.00</text>
<text x="760.5" y="366.78" font-size="14.17" text-anchor="middle" textLength="21.88" lengthAdjust="spacingAndGlyphs">0.0</text>
<text x="810.15" y="366.78" font-size="14.17" text-anchor="middle" textLength="21.88" lengthAdjust="spacingAndGlyphs">0.5</text>
<text x="859.8" y="366.78" font-size="14.17" text-anchor="middle" textLength="22" lengthAdjust="spacingAndGlyphs">1.0</text>
<text x="909.45" y="366.78" font-size="14.17" text-anchor="middle" textLength="22" lengthAdjust="spacingAndGlyphs">1.5</text>
<text x="959.1" y="366.78" font-size="14.17" text-anchor="middle" textLength="21.88" lengthAdjust="spacingAndGlyphs">2.0</text>
<text x="1008.75" y="366.78" font-size="14.17" text-anchor="middle" textLength="21.88" lengthAdjust="spacingAndGlyphs">2.5</text>
<text x="1058.4" y="366.78" font-size="14.17" text-anchor="middle" textLength="21.88" lengthAdjust="spacingAndGlyphs">3.0</text>
<text x="1108.05" y="366.78" font-size="14.17" text-anchor="middle" textLength="21.88" lengthAdjust="spacingAndGlyphs">3.5</text>
<text x="1157.7" y="366.78" font-size="14.17" text-anchor="middle" textLength="21.88" lengthAdjust="spacingAndGlyphs">4.0</text>
<text x="959.4" y="388.94" font-size="18.42" text-anchor="middle" textLength="137.62" lengthAdjust="spacingAndGlyphs">Time (seconds)</text>
<text x="731.18" y="336.4" font-size="14.17" text-anchor="end" textLength="29.25" lengthAdjust="spacingAndGlyphs">−60</text>
<text x="731.18" y="286.86" font-size="14.17" text-anchor="end" textLength="29.12" lengthAdjust="spacingAndGlyphs">−40</text>
<text x="731.18" y="237.32" font-size="14.17" text-anchor="end" textLength="29.12" lengthAdjust="spacingAndGlyphs">−20</text>
<text x="731.18" y="187.78" font-size="14.17" text-anchor="end" textLength="8.75" lengthAdjust="spacingAndGlyphs">0</text>
<text x="731.18" y="138.24" font-size="14.17" text-anchor="end" textLength="17.5" lengthAdjust="spacingAndGlyphs">20</text>
<text x="731.18" y="88.7" font-size="14.17" text-anchor="end" textLength="17.5" lengthAdjust="spacingAndGlyphs">40</text>
<text x="731.18" y="39.16" font-size="14.17" text-anchor="end" textLength="17.62" lengthAdjust="spacingAndGlyphs">60</text>
<text transform="translate(692.56 182.75) rotate(-90)" font-size="18.42" text-anchor="middle" textLength="143.5" lengthAdjust="spacingAndGlyphs">Whitened strain</text>
<text x="1081.66" y="44.36" font-size="15.58" textLength="79.25" lengthAdjust="spacingAndGlyphs">Mock data</text>
<text x="1081.66" y="66.78" font-size="15.58" textLength="82.75" lengthAdjust="spacingAndGlyphs">True signal</text>
<g transform="translate(139.85 1166.7)"><path d="M-26.35 -0.8 Q-24.25 1.6 -22.45 -3.2 L-20.35 -11.9 L-17.65 0 L-8.25 -12 L-9.75 -1.8 Q-9.85 0.6 -7.45 -0.3" fill="none" stroke="#000" stroke-width="1.75" stroke-linecap="round" stroke-linejoin="round"/><text x="-6.65" y="0" font-size="18.3">/</text><text x="-0.85" y="0" font-size="18.3" font-style="italic">M</text><circle cx="21.15" cy="-0.6" r="3.9" fill="none" stroke="#000" stroke-width="1.1"/><circle cx="21.15" cy="-0.6" r="1.1"/></g>
<g transform="translate(299.2 1166.7)"><text x="-5.9" y="0" font-size="18.3" font-style="italic">η</text></g>
<g transform="translate(458.55 1166.7)"><text x="-8.95" y="0" font-size="18.3" font-style="italic">χ</text><text x="1.85" y="2.3" font-size="12.8">1</text></g>
<g transform="translate(617.9 1166.7)"><text x="-9.2" y="0" font-size="18.3" font-style="italic">χ</text><text x="1.7" y="2.3" font-size="12.8">2</text></g>
<g transform="translate(777.25 1166.7)"><text x="-31.95" y="0" font-size="18.3" font-style="italic">d</text><text x="-20.65" y="3.4" font-size="12.8" font-style="italic">L</text><text x="-12.65" y="0" font-size="18.3" textLength="42.6" lengthAdjust="spacingAndGlyphs">/Mpc</text></g>
<g transform="translate(936.6 1166.7)"><text x="-15.2" y="0" font-size="18.3" font-style="italic">t</text><text x="-8.4" y="3.6" font-size="12.8" font-style="italic">c</text><text x="-0.8" y="0" font-size="18.3" textLength="15.2" lengthAdjust="spacingAndGlyphs">/s</text></g>
<g transform="translate(1095.95 1166.7)"><text x="-10.15" y="0" font-size="18.3" font-style="italic">ϕ</text><text x="1.95" y="3.8" font-size="12.8" font-style="italic">c</text></g>
<g transform="translate(13.6 235.4) rotate(-90)"><text x="-5.9" y="0" font-size="18.3" font-style="italic">η</text></g>
<g transform="translate(13.6 394.75) rotate(-90)"><text x="-8.95" y="0" font-size="18.3" font-style="italic">χ</text><text x="1.85" y="2.3" font-size="12.8">1</text></g>
<g transform="translate(13.6 554.1) rotate(-90)"><text x="-9.2" y="0" font-size="18.3" font-style="italic">χ</text><text x="1.7" y="2.3" font-size="12.8">2</text></g>
<g transform="translate(13.6 713.45) rotate(-90)"><text x="-31.95" y="0" font-size="18.3" font-style="italic">d</text><text x="-20.65" y="3.4" font-size="12.8" font-style="italic">L</text><text x="-12.65" y="0" font-size="18.3" textLength="42.6" lengthAdjust="spacingAndGlyphs">/Mpc</text></g>
<g transform="translate(13.6 872.8) rotate(-90)"><text x="-15.2" y="0" font-size="18.3" font-style="italic">t</text><text x="-8.4" y="3.6" font-size="12.8" font-style="italic">c</text><text x="-0.8" y="0" font-size="18.3" textLength="15.2" lengthAdjust="spacingAndGlyphs">/s</text></g>
<g transform="translate(13.6 1032.15) rotate(-90)"><text x="-10.15" y="0" font-size="18.3" font-style="italic">ϕ</text><text x="1.95" y="3.8" font-size="12.8" font-style="italic">c</text></g>
</svg>
</body></html>
